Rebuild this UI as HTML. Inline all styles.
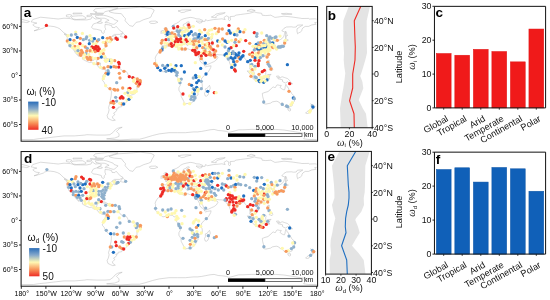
<!DOCTYPE html>
<html><head><meta charset="utf-8"><title>figure</title>
<style>
html,body{margin:0;padding:0;background:#fff;}
svg{display:block}
text{font-family:'Liberation Sans', Arial, sans-serif;fill:#111}
.tk{font-size:7px;fill:#000}
.t8{font-size:8.8px}
.lab{font-size:13.5px;font-weight:bold;fill:#000}
.ttl{font-size:9.2px}
.om{font-family:'Liberation Serif','DejaVu Serif',serif;font-style:italic;fill:#222;font-size:10.6px}
</style></head><body>
<svg width="550" height="300" viewBox="0 0 550 300">
<defs>
<linearGradient id="cb" x1="0" y1="0" x2="0" y2="1">
<stop offset="0" stop-color="#2a6db8"/><stop offset="0.25" stop-color="#86a9cb"/><stop offset="0.5" stop-color="#fff9b4"/><stop offset="0.75" stop-color="#f8975c"/><stop offset="1" stop-color="#ee2c25"/>
</linearGradient>
<clipPath id="clipA"><rect x="21.3" y="6" width="295.7" height="135"/></clipPath>
<clipPath id="clipD"><rect x="21.3" y="151" width="295.7" height="135"/></clipPath>
</defs>
<rect width="550" height="300" fill="#fff"/>

<g clip-path="url(#clipA)"><path d="M31.1 21.9 L32.8 19.5 L40.6 17.2 L53.3 18.5 L58.2 19.0 L64.0 18.2 L70.5 18.6 L74.6 19.9 L80.4 19.9 L86.9 19.9 L91.1 19.0 L91.9 16.6 L95.2 19.0 L99.3 18.6 L101.7 19.9 L99.3 21.5 L97.6 22.7 L93.5 23.9 L91.5 27.2 L93.1 28.9 L96.8 29.3 L101.3 30.5 L101.7 32.5 L103.4 33.5 L104.2 32.9 L104.2 30.9 L105.8 29.3 L105.0 27.4 L105.0 24.5 L108.7 24.8 L111.6 25.6 L112.0 27.4 L114.8 27.6 L116.1 26.2 L118.1 28.4 L119.8 30.5 L123.1 32.5 L119.8 34.4 L114.4 34.4 L111.6 36.6 L115.7 35.4 L116.1 37.0 L119.0 37.8 L116.5 39.1 L114.8 39.9 L114.8 38.7 L111.6 39.7 L111.0 41.1 L111.6 41.4 L108.3 42.3 L107.1 44.4 L106.6 45.2 L106.9 46.4 L105.4 47.5 L103.8 48.5 L102.4 49.7 L102.3 51.3 L103.3 53.8 L102.9 54.8 L101.9 54.0 L101.1 52.6 L100.1 50.9 L98.4 50.7 L96.0 50.8 L95.6 51.6 L93.9 51.3 L91.9 51.3 L89.4 52.6 L89.0 54.6 L88.8 57.1 L90.2 59.9 L91.5 60.6 L93.9 60.2 L94.7 58.3 L97.6 57.9 L97.2 59.5 L96.4 62.4 L98.4 62.5 L100.5 63.0 L100.3 66.0 L101.3 67.8 L103.4 67.9 L105.4 68.5 L107.1 66.6 L109.9 65.6 L110.3 66.6 L113.2 66.0 L116.5 66.8 L118.5 66.9 L119.8 68.5 L122.2 70.5 L124.7 70.7 L126.7 71.8 L128.0 74.2 L128.0 75.5 L129.6 76.3 L132.5 77.5 L135.4 77.9 L138.2 79.4 L140.1 79.9 L140.3 82.0 L138.6 84.9 L137.0 86.5 L137.0 89.3 L136.2 91.8 L135.4 93.4 L133.7 94.3 L131.3 95.1 L129.2 96.7 L129.0 98.7 L127.6 100.8 L125.9 102.4 L124.7 103.7 L122.2 103.8 L121.2 103.2 L122.2 105.3 L121.7 106.7 L118.1 107.3 L117.9 109.0 L115.7 109.0 L116.7 110.2 L115.3 112.2 L113.6 113.1 L114.8 114.7 L112.4 116.7 L112.8 118.4 L115.3 120.2 L112.8 120.7 L110.3 119.6 L107.9 118.4 L107.1 115.5 L108.3 113.1 L109.1 109.8 L108.5 107.7 L109.1 105.7 L110.3 102.4 L110.3 100.0 L111.2 95.9 L111.4 91.8 L111.2 90.4 L109.5 89.3 L106.6 86.9 L105.4 85.3 L104.2 82.4 L102.5 80.4 L102.3 79.1 L103.4 78.1 L102.7 77.2 L102.9 75.9 L103.4 74.8 L104.3 74.2 L105.4 72.2 L105.4 69.3 L103.8 68.3 L102.9 69.5 L100.9 68.7 L98.7 67.3 L97.2 64.8 L93.9 64.0 L91.5 62.2 L89.4 62.5 L86.1 61.1 L82.4 59.1 L82.4 57.1 L80.4 54.6 L78.7 53.0 L76.7 50.9 L74.9 49.5 L75.0 50.9 L76.7 53.0 L78.3 55.4 L79.0 56.6 L77.1 54.6 L75.0 52.6 L74.2 50.9 L72.8 48.8 L71.8 47.7 L70.0 47.2 L68.9 45.4 L68.5 44.5 L67.3 42.5 L67.0 40.3 L67.3 37.7 L66.7 35.9 L68.1 35.4 L66.4 34.3 L64.0 32.9 L61.9 30.9 L59.9 28.9 L57.4 27.6 L54.1 26.6 L50.8 26.2 L47.6 26.0 L44.7 27.0 L43.5 28.0 L40.2 29.1 L36.5 30.3 L34.0 30.8 L37.3 29.5 L39.4 27.6 L36.1 27.2 L34.0 26.0 L32.8 24.8 L34.0 23.9 L36.9 23.1 L34.8 22.6 L32.4 22.1 L31.1 21.9 M109.1 11.5 L113.2 10.0 L118.1 8.8 L128.0 8.2 L140.3 7.2 L151.0 8.4 L154.2 10.0 L153.4 12.1 L151.8 14.5 L151.0 17.0 L148.5 18.2 L143.6 19.7 L139.5 21.7 L136.2 22.3 L134.1 24.8 L132.9 26.4 L129.6 25.6 L127.2 23.1 L125.1 20.7 L125.5 18.6 L123.9 17.0 L121.4 13.7 L114.8 13.2 L110.7 12.3 L109.1 11.5 M103.4 15.2 L106.6 15.9 L109.9 17.0 L113.2 18.2 L114.0 19.5 L118.1 20.9 L116.5 22.3 L114.8 23.9 L113.2 24.4 L110.3 23.5 L108.3 22.7 L105.0 22.7 L105.8 21.5 L109.1 20.3 L106.6 19.0 L104.2 18.2 L99.3 18.2 L96.0 17.4 L95.2 15.8 L99.3 15.4 L103.4 15.2 M73.0 19.0 L76.3 19.5 L80.4 19.3 L85.3 19.0 L86.1 17.8 L82.8 15.8 L78.7 15.8 L73.0 16.2 L71.4 17.4 L73.0 19.0 M66.4 16.6 L69.7 17.2 L72.2 15.4 L69.7 14.5 L66.4 15.0 L66.4 16.6 M95.2 12.9 L103.4 13.2 L105.0 11.7 L111.6 10.0 L118.1 8.0 L107.5 7.6 L95.2 8.8 L93.5 10.9 L96.8 12.1 L95.2 12.9 M90.2 13.7 L103.4 13.6 L102.5 14.5 L93.5 14.5 L90.2 13.7 M73.0 14.0 L82.0 13.7 L82.0 13.1 L73.0 13.1 L73.0 14.0 M86.9 16.6 L90.2 16.6 L91.9 15.0 L86.9 15.4 L86.9 16.6 M97.6 23.1 L100.9 23.5 L102.5 22.7 L100.1 21.5 L97.6 22.3 L97.6 23.1 M120.3 36.5 L123.1 37.2 L125.5 37.3 L125.8 36.5 L125.1 35.1 L123.2 33.3 L121.8 34.2 L120.3 36.5 M64.0 33.9 L66.4 34.6 L67.7 35.9 L66.0 35.6 L64.0 33.9 M99.3 57.5 L101.7 56.5 L105.0 57.1 L108.1 58.9 L105.4 59.2 L105.0 58.3 L101.7 57.6 L99.3 57.5 M108.0 60.3 L109.5 59.2 L111.6 59.3 L112.9 60.2 L110.7 61.0 L108.0 60.3 M149.3 21.9 L151.0 21.2 L155.9 21.1 L157.8 22.3 L154.2 23.6 L150.5 23.3 L149.3 21.9 M164.5 46.0 L161.6 45.2 L161.2 43.8 L161.8 41.5 L161.4 40.3 L162.4 39.7 L166.1 39.9 L167.8 39.9 L168.0 37.8 L167.0 36.8 L165.2 36.0 L167.8 35.6 L167.6 34.8 L169.2 35.0 L170.3 33.9 L171.9 33.4 L172.7 32.5 L173.1 31.9 L175.6 31.6 L176.1 30.5 L175.7 28.9 L177.6 28.3 L177.2 29.7 L177.9 31.3 L178.9 31.1 L180.7 31.4 L184.2 30.7 L186.2 30.5 L186.2 28.9 L188.3 28.9 L188.9 27.8 L188.3 27.1 L192.0 26.8 L193.6 26.4 L190.3 26.1 L187.5 26.4 L186.5 25.6 L186.7 23.9 L189.5 22.3 L188.3 21.7 L186.7 22.3 L186.2 23.1 L183.4 24.4 L183.1 25.6 L184.4 26.4 L182.5 27.6 L182.4 29.3 L180.7 29.7 L179.5 30.1 L178.2 27.4 L177.6 27.0 L175.2 28.0 L173.5 27.4 L173.1 25.6 L173.9 24.4 L176.4 23.4 L178.9 21.9 L180.5 20.3 L183.0 19.0 L186.2 18.2 L190.1 17.4 L192.4 17.6 L194.4 18.1 L196.1 18.8 L199.4 19.0 L202.7 20.3 L202.2 21.2 L197.7 21.1 L196.1 21.1 L197.6 22.3 L199.4 23.1 L201.8 22.6 L201.8 21.5 L205.1 21.3 L205.5 19.6 L207.6 20.7 L213.3 19.6 L218.2 19.2 L221.9 18.8 L225.2 19.6 L224.0 17.4 L226.5 15.8 L228.9 17.0 L228.5 19.5 L229.3 20.7 L230.6 19.9 L230.1 16.6 L234.7 16.2 L235.5 15.2 L240.4 14.5 L249.4 13.3 L254.4 11.9 L256.8 12.7 L261.7 13.3 L262.1 15.2 L265.8 15.6 L270.8 15.2 L274.9 17.4 L278.1 17.0 L283.9 16.2 L292.1 17.0 L300.3 18.2 L301.9 18.5 L308.5 18.4 L309.3 19.0 L315.1 18.8 L316.7 19.2 M21.3 19.2 L25.4 20.3 L29.5 21.5 L27.0 22.7 L22.9 21.9 L21.3 22.3 M316.7 22.3 L314.7 22.6 L315.9 24.4 L311.8 24.9 L308.5 26.4 L305.2 26.4 L302.8 28.0 L301.9 29.7 L301.9 30.7 L300.3 32.1 L298.7 32.9 L297.6 33.8 L297.0 31.3 L297.0 28.9 L299.9 26.8 L302.8 25.0 L300.3 25.0 L297.4 25.2 L296.2 27.0 L293.7 27.2 L291.3 26.8 L286.4 27.0 L283.9 28.4 L281.8 30.9 L284.7 31.9 L284.9 32.9 L284.3 34.6 L283.9 36.2 L282.3 38.3 L280.2 39.7 L278.1 40.5 L276.5 40.7 L275.4 41.6 L273.6 42.9 L275.1 45.2 L275.1 46.4 L273.6 47.1 L272.6 47.1 L272.8 45.2 L271.6 44.5 L271.8 43.2 L271.0 42.8 L269.1 42.3 L268.5 43.6 L265.8 43.4 L266.7 44.8 L269.5 44.9 L267.9 46.0 L266.9 46.8 L268.1 48.9 L269.0 50.1 L269.0 51.5 L267.5 53.8 L265.8 55.4 L264.2 56.6 L262.1 57.2 L259.7 58.0 L259.3 58.9 L258.0 57.7 L256.6 58.7 L255.8 59.9 L257.2 62.0 L258.5 63.6 L258.6 65.8 L256.8 66.9 L255.3 68.3 L255.0 67.0 L253.1 65.6 L251.8 64.6 L251.1 64.6 L250.5 66.9 L251.5 69.5 L252.9 70.4 L253.9 71.8 L254.5 74.2 L253.9 74.4 L252.1 73.1 L251.3 70.5 L249.7 68.9 L250.0 66.9 L249.3 63.6 L249.1 62.0 L247.2 62.5 L246.4 62.4 L246.4 60.3 L244.7 58.3 L244.1 57.1 L242.0 57.5 L240.4 57.9 L240.0 59.1 L238.8 59.5 L236.5 61.8 L234.8 62.8 L234.8 64.8 L234.5 67.0 L233.8 67.8 L232.6 68.8 L231.6 67.7 L230.6 65.2 L229.7 63.2 L228.9 60.3 L228.7 58.3 L226.9 58.4 L225.6 57.2 L224.2 55.4 L221.5 54.8 L219.5 54.8 L216.2 54.4 L215.4 53.4 L213.7 53.6 L211.3 52.6 L210.0 50.9 L208.8 50.9 L208.4 51.3 L210.0 53.6 L210.6 55.0 L211.3 55.4 L213.3 55.7 L215.0 54.2 L215.4 55.4 L217.2 56.2 L218.1 57.1 L216.4 59.9 L214.1 61.6 L211.7 62.6 L208.8 64.0 L205.9 65.0 L204.7 65.1 L204.0 63.2 L202.7 60.3 L201.0 57.9 L199.8 55.4 L197.7 52.6 L197.6 51.3 L196.1 52.6 L195.7 50.9 L195.5 49.9 L197.2 49.9 L197.7 48.5 L198.5 46.4 L198.5 45.4 L196.1 45.9 L194.0 45.6 L192.0 45.4 L191.2 44.4 L190.6 43.2 L191.2 42.3 L192.8 41.8 L194.9 41.8 L197.7 41.1 L200.2 41.9 L203.1 41.5 L202.7 40.3 L200.2 39.1 L199.6 38.3 L201.0 36.9 L197.7 37.6 L196.5 39.1 L195.7 37.8 L194.3 37.4 L193.4 38.4 L192.4 39.9 L192.0 41.4 L190.6 42.1 L188.5 42.2 L187.7 42.4 L188.3 43.3 L187.9 44.4 L188.7 44.6 L187.7 45.6 L186.5 44.8 L185.4 43.0 L184.9 41.5 L184.2 40.7 L182.1 39.9 L180.9 38.5 L180.3 38.1 L179.1 38.4 L179.3 39.5 L180.5 40.7 L182.1 41.3 L184.2 42.6 L183.0 42.3 L182.5 43.2 L183.1 43.6 L182.1 44.4 L181.9 44.4 L182.1 43.2 L180.9 42.2 L179.1 41.4 L177.6 40.3 L176.2 39.2 L175.2 39.7 L173.1 40.0 L171.6 40.1 L171.6 41.3 L169.7 42.1 L168.8 43.2 L169.2 43.8 L168.4 44.7 L167.4 45.4 L165.3 45.4 L164.5 46.0 M164.2 46.2 L167.4 46.7 L169.8 45.6 L173.1 45.4 L177.2 45.0 L178.0 45.4 L177.2 47.4 L178.0 48.2 L181.3 49.0 L184.6 50.7 L185.4 50.1 L185.6 48.9 L187.9 48.8 L189.5 49.5 L192.8 50.2 L194.4 49.7 L195.5 49.9 L195.7 50.9 L196.5 52.6 L198.1 55.8 L199.5 58.3 L199.6 60.2 L201.0 62.4 L202.7 63.4 L204.5 65.2 L204.5 66.0 L205.5 66.9 L207.6 66.3 L211.1 65.8 L210.7 67.7 L208.4 71.8 L205.1 74.6 L203.1 76.9 L201.8 77.9 L201.0 80.4 L201.4 82.0 L202.2 84.0 L202.4 87.7 L199.4 89.8 L197.7 91.8 L198.1 94.9 L195.9 96.5 L195.9 98.3 L194.0 100.8 L191.2 103.1 L187.1 103.5 L185.4 103.9 L184.0 103.2 L183.9 101.6 L182.5 98.9 L181.3 96.7 L180.9 93.4 L178.9 90.2 L178.9 87.7 L180.3 85.3 L179.9 82.8 L179.0 80.4 L178.7 79.1 L176.6 76.7 L176.8 74.6 L177.0 72.6 L176.0 71.8 L173.9 71.9 L172.7 70.3 L170.6 70.3 L167.8 71.4 L165.7 71.2 L162.9 71.9 L161.2 70.5 L158.8 69.1 L157.9 67.4 L156.7 66.5 L155.2 65.2 L154.6 63.4 L155.5 62.0 L155.6 59.5 L155.1 58.3 L155.9 56.1 L157.1 54.2 L158.3 52.7 L160.8 51.3 L161.0 49.7 L162.0 48.2 L163.4 47.7 L164.2 46.2 M209.5 85.3 L210.3 88.1 L209.6 89.8 L208.0 95.1 L206.3 96.3 L205.1 95.9 L204.5 93.4 L205.4 91.8 L205.4 88.9 L207.2 88.3 L208.4 86.5 L209.5 85.3 M164.3 34.6 L166.1 34.3 L170.1 33.6 L169.4 33.3 L170.4 32.4 L169.2 32.1 L168.8 31.3 L167.8 30.5 L167.4 29.7 L166.5 29.7 L167.4 28.3 L165.7 28.3 L166.5 27.5 L164.9 27.5 L164.1 28.4 L164.5 29.7 L165.1 30.1 L165.1 30.7 L166.5 30.9 L166.5 31.8 L165.3 31.9 L165.6 32.7 L164.7 33.1 L166.1 33.3 L165.3 33.8 L164.3 34.6 M160.8 33.2 L163.8 32.8 L164.1 31.7 L164.5 30.9 L163.0 30.2 L162.0 30.9 L160.8 31.1 L161.6 32.0 L160.6 32.8 L160.8 33.2 M276.4 47.7 L277.7 47.4 L279.8 47.2 L281.4 47.2 L282.9 46.8 L283.9 46.7 L284.6 45.6 L284.7 44.1 L285.5 43.0 L285.1 41.7 L283.9 42.2 L283.7 43.6 L282.7 45.0 L281.4 45.0 L280.6 46.0 L278.1 46.4 L276.4 47.7 M283.9 41.4 L284.7 40.7 L286.6 41.1 L288.4 40.1 L287.4 39.5 L285.5 38.3 L285.3 40.1 L284.1 40.1 L283.9 41.4 M275.7 48.1 L277.1 47.9 L276.9 49.7 L275.9 49.9 L275.7 48.1 M285.5 31.1 L286.4 32.1 L286.8 34.6 L287.7 35.4 L286.4 35.6 L286.2 37.6 L285.5 37.8 L285.5 34.6 L285.5 31.1 M268.3 54.8 L269.1 55.0 L268.1 57.5 L267.6 56.6 L268.3 54.8 M258.2 59.7 L259.7 59.1 L260.1 59.5 L258.9 60.6 L258.2 59.7 M234.7 67.4 L235.6 68.5 L236.1 69.7 L235.1 70.5 L234.5 69.7 L234.7 67.4 M247.2 70.9 L249.0 71.2 L251.3 73.4 L253.9 76.3 L256.0 77.9 L255.8 80.2 L254.8 79.9 L252.7 78.3 L251.3 76.3 L250.0 74.1 L248.6 72.6 L247.2 70.9 M255.3 81.0 L257.6 80.8 L259.9 80.7 L261.5 81.2 L263.0 81.7 L262.8 82.6 L259.3 82.1 L256.4 81.5 L255.3 81.0 M258.5 74.2 L260.3 73.2 L261.7 72.8 L263.8 71.0 L265.0 69.7 L266.2 71.0 L265.7 72.6 L265.8 74.6 L265.4 76.1 L264.4 78.6 L263.0 78.7 L260.5 78.1 L259.3 76.7 L258.5 75.2 L258.5 74.2 M267.3 74.8 L268.3 74.5 L271.2 74.4 L270.2 75.1 L267.9 75.2 L268.7 76.3 L269.9 76.2 L269.1 77.1 L269.7 79.1 L268.7 79.3 L268.1 77.7 L267.7 79.9 L267.1 79.9 L267.1 78.1 L266.5 77.7 L267.3 74.8 M276.5 76.1 L279.0 76.1 L279.8 78.1 L282.1 76.7 L284.7 77.6 L287.6 78.6 L289.6 80.4 L290.3 81.6 L292.5 84.0 L289.6 83.5 L287.6 81.7 L285.5 83.0 L283.1 82.0 L282.3 81.2 L282.7 79.9 L279.8 79.1 L278.0 78.7 L278.6 77.5 L277.3 77.7 L276.5 76.1 M267.9 60.3 L269.3 60.3 L269.1 62.1 L268.7 63.8 L270.8 64.8 L270.4 65.1 L268.3 64.3 L267.6 63.4 L267.5 62.1 L267.9 60.3 M269.1 69.7 L270.4 68.3 L272.0 67.4 L272.8 69.3 L272.0 70.7 L270.8 70.1 L269.1 69.7 M262.3 93.4 L262.7 96.7 L264.0 101.2 L263.4 103.5 L265.8 104.1 L270.4 103.2 L272.4 101.9 L274.9 101.4 L276.9 101.2 L279.4 102.4 L280.6 104.1 L282.0 102.4 L282.3 104.5 L283.6 105.7 L284.7 106.7 L286.8 107.2 L288.0 106.5 L289.1 107.3 L290.5 106.4 L292.1 105.9 L292.7 104.1 L293.2 102.8 L294.1 101.9 L295.0 98.7 L294.6 96.3 L292.9 94.8 L291.7 93.7 L290.9 91.8 L289.1 91.0 L288.4 87.7 L287.2 87.1 L286.8 85.7 L285.9 84.3 L285.3 86.1 L285.1 88.1 L284.5 89.8 L283.1 89.6 L280.6 88.1 L280.2 87.3 L281.3 85.4 L279.8 85.4 L277.7 84.9 L276.5 85.4 L275.4 87.5 L274.5 87.5 L273.2 86.9 L271.6 88.1 L270.4 89.6 L269.3 90.2 L268.3 91.5 L265.0 92.4 L263.4 93.0 L262.3 93.4 M287.7 108.7 L290.6 108.8 L290.5 110.6 L289.2 111.0 L288.2 110.2 L287.7 108.7 M310.7 103.7 L312.2 105.1 L313.3 105.5 L315.1 106.2 L314.3 107.7 L312.9 109.5 L312.4 109.2 L312.6 108.2 L311.6 107.6 L312.4 106.1 L310.7 103.7 M310.7 108.6 L312.0 109.6 L310.8 111.0 L309.3 112.2 L308.9 113.1 L307.3 113.5 L305.6 113.1 L306.9 111.7 L309.3 110.2 L310.7 108.6 M211.3 17.0 L214.1 15.8 L215.8 14.1 L219.9 13.2 L225.2 12.7 L223.2 13.7 L218.2 15.0 L215.8 16.6 L216.2 17.7 L212.9 17.6 L211.3 17.0 M178.0 10.9 L182.1 10.0 L187.1 9.8 L191.2 10.0 L186.2 11.3 L184.2 12.3 L181.3 12.5 L180.1 11.7 L178.0 10.9 M247.0 10.9 L251.1 9.2 L255.2 10.5 L251.1 11.3 L247.0 10.9 M281.4 13.7 L286.4 13.3 L292.1 14.1 L288.0 14.4 L283.1 14.4 L281.4 13.7 M209.2 37.4 L212.1 37.4 L212.5 38.7 L210.9 39.1 L212.1 40.7 L212.5 42.8 L213.3 44.8 L210.9 45.4 L209.2 44.6 L209.6 42.3 L208.0 40.3 L207.6 38.7 L209.2 37.4 M21.3 139.5 L33.6 139.5 L39.4 138.6 L45.9 138.0 L54.1 137.0 L64.0 135.9 L74.6 135.9 L84.5 135.1 L86.9 134.7 L96.8 135.1 L105.0 135.1 L109.9 134.7 L113.2 132.3 L114.8 130.2 L117.3 128.4 L120.6 127.4 L122.2 127.3 L119.4 128.6 L118.1 129.8 L116.5 131.4 L119.0 133.9 L119.0 136.4 L114.8 138.0 L106.6 138.8 L119.8 140.0 L132.1 139.2 L139.5 139.2 L144.4 138.0 L152.6 135.5 L159.2 133.9 L164.9 133.2 L169.0 132.7 L177.2 132.7 L185.4 132.7 L193.6 131.9 L197.7 131.9 L201.8 131.4 L205.9 130.6 L210.0 129.8 L214.1 129.4 L218.2 130.5 L222.3 130.8 L226.5 131.4 L228.9 132.4 L233.0 131.4 L238.8 129.8 L242.9 129.8 L251.1 129.4 L259.3 129.4 L267.5 130.1 L275.7 129.4 L283.9 130.0 L292.1 131.3 L300.3 132.7 L304.4 133.3 L308.5 134.1 L305.2 136.4 L303.6 138.8 L308.5 139.5 L316.7 139.5" fill="none" stroke="#b6b6b6" stroke-width="0.5" stroke-linejoin="round"/>
<circle cx="46.4" cy="25.4" r="1.65" fill="#ee2a24"/>
<circle cx="75.7" cy="32.1" r="1.65" fill="#fff8ae"/>
<circle cx="82.4" cy="33.4" r="1.65" fill="#fff8ae"/>
<circle cx="71.3" cy="35.0" r="1.65" fill="#8fb0cc"/>
<circle cx="75.7" cy="34.3" r="1.65" fill="#8fb0cc"/>
<circle cx="68.0" cy="35.7" r="1.65" fill="#fff8ae"/>
<circle cx="77.3" cy="37.4" r="1.65" fill="#1f6fc1"/>
<circle cx="86.7" cy="37.0" r="1.65" fill="#8fb0cc"/>
<circle cx="80.3" cy="38.3" r="1.65" fill="#f79a5e"/>
<circle cx="83.3" cy="39.7" r="1.65" fill="#8fb0cc"/>
<circle cx="86.0" cy="38.7" r="1.65" fill="#8fb0cc"/>
<circle cx="90.0" cy="35.7" r="1.65" fill="#fff8ae"/>
<circle cx="70.0" cy="39.7" r="1.65" fill="#1f6fc1"/>
<circle cx="74.0" cy="40.3" r="1.65" fill="#f79a5e"/>
<circle cx="67.3" cy="41.0" r="1.65" fill="#f79a5e"/>
<circle cx="69.1" cy="43.0" r="1.65" fill="#fff8ae"/>
<circle cx="80.0" cy="43.7" r="1.65" fill="#ee2a24"/>
<circle cx="76.0" cy="42.3" r="1.65" fill="#fff8ae"/>
<circle cx="72.7" cy="43.7" r="1.65" fill="#fff8ae"/>
<circle cx="70.0" cy="45.7" r="1.65" fill="#8fb0cc"/>
<circle cx="74.9" cy="46.3" r="1.65" fill="#f79a5e"/>
<circle cx="78.0" cy="46.3" r="1.65" fill="#fff8ae"/>
<circle cx="82.7" cy="45.7" r="1.65" fill="#fff8ae"/>
<circle cx="85.3" cy="47.0" r="1.65" fill="#f79a5e"/>
<circle cx="89.3" cy="43.7" r="1.65" fill="#1f6fc1"/>
<circle cx="89.6" cy="40.3" r="1.65" fill="#8fb0cc"/>
<circle cx="92.7" cy="39.0" r="1.65" fill="#8fb0cc"/>
<circle cx="94.4" cy="38.7" r="1.65" fill="#1f6fc1"/>
<circle cx="97.3" cy="41.0" r="1.65" fill="#f79a5e"/>
<circle cx="98.7" cy="39.7" r="1.65" fill="#8fb0cc"/>
<circle cx="93.3" cy="43.7" r="1.65" fill="#fff8ae"/>
<circle cx="96.0" cy="43.7" r="1.65" fill="#fff8ae"/>
<circle cx="92.0" cy="47.0" r="1.65" fill="#ee2a24"/>
<circle cx="95.3" cy="47.7" r="1.65" fill="#ee2a24"/>
<circle cx="98.0" cy="47.0" r="1.65" fill="#ee2a24"/>
<circle cx="99.3" cy="49.0" r="1.65" fill="#ee2a24"/>
<circle cx="94.7" cy="49.9" r="1.65" fill="#ee2a24"/>
<circle cx="91.3" cy="49.0" r="1.65" fill="#fff8ae"/>
<circle cx="87.3" cy="48.3" r="1.65" fill="#8fb0cc"/>
<circle cx="86.7" cy="51.0" r="1.65" fill="#f79a5e"/>
<circle cx="81.3" cy="50.3" r="1.65" fill="#f79a5e"/>
<circle cx="78.7" cy="49.0" r="1.65" fill="#fff8ae"/>
<circle cx="75.3" cy="49.0" r="1.65" fill="#fff8ae"/>
<circle cx="72.7" cy="47.7" r="1.65" fill="#fff8ae"/>
<circle cx="82.7" cy="53.0" r="1.65" fill="#f79a5e"/>
<circle cx="80.0" cy="53.7" r="1.65" fill="#f79a5e"/>
<circle cx="77.3" cy="52.3" r="1.65" fill="#fff8ae"/>
<circle cx="86.0" cy="53.7" r="1.65" fill="#8fb0cc"/>
<circle cx="125.7" cy="37.0" r="1.65" fill="#ee2a24"/>
<circle cx="116.0" cy="38.1" r="1.65" fill="#ee2a24"/>
<circle cx="117.3" cy="39.4" r="1.65" fill="#ee2a24"/>
<circle cx="110.0" cy="37.7" r="1.65" fill="#f79a5e"/>
<circle cx="107.3" cy="38.3" r="1.65" fill="#f79a5e"/>
<circle cx="111.3" cy="39.7" r="1.65" fill="#f79a5e"/>
<circle cx="110.0" cy="41.7" r="1.65" fill="#fff8ae"/>
<circle cx="106.7" cy="41.0" r="1.65" fill="#fff8ae"/>
<circle cx="105.3" cy="43.0" r="1.65" fill="#f79a5e"/>
<circle cx="106.0" cy="45.7" r="1.65" fill="#f79a5e"/>
<circle cx="103.3" cy="42.3" r="1.65" fill="#fff8ae"/>
<circle cx="102.7" cy="37.7" r="1.65" fill="#1f6fc1"/>
<circle cx="92.7" cy="41.0" r="1.65" fill="#8fb0cc"/>
<circle cx="91.3" cy="39.0" r="1.65" fill="#fff8ae"/>
<circle cx="93.3" cy="47.7" r="1.65" fill="#ee2a24"/>
<circle cx="96.0" cy="46.3" r="1.65" fill="#ee2a24"/>
<circle cx="96.7" cy="49.7" r="1.65" fill="#ee2a24"/>
<circle cx="95.3" cy="51.7" r="1.65" fill="#f79a5e"/>
<circle cx="92.0" cy="51.7" r="1.65" fill="#fff8ae"/>
<circle cx="100.7" cy="51.7" r="1.65" fill="#fff8ae"/>
<circle cx="103.3" cy="53.7" r="1.65" fill="#f79a5e"/>
<circle cx="102.0" cy="51.0" r="1.65" fill="#fff8ae"/>
<circle cx="101.3" cy="57.0" r="1.65" fill="#1f6fc1"/>
<circle cx="98.0" cy="58.3" r="1.65" fill="#f79a5e"/>
<circle cx="95.3" cy="58.3" r="1.65" fill="#fff8ae"/>
<circle cx="92.0" cy="57.7" r="1.65" fill="#fff8ae"/>
<circle cx="90.7" cy="59.7" r="1.65" fill="#f79a5e"/>
<circle cx="105.3" cy="60.3" r="1.65" fill="#fff8ae"/>
<circle cx="110.0" cy="60.3" r="1.65" fill="#1f6fc1"/>
<circle cx="108.0" cy="59.7" r="1.65" fill="#fff8ae"/>
<circle cx="114.7" cy="60.7" r="1.65" fill="#f79a5e"/>
<circle cx="118.7" cy="62.3" r="1.65" fill="#ee2a24"/>
<circle cx="119.3" cy="63.9" r="1.65" fill="#ee2a24"/>
<circle cx="112.0" cy="61.0" r="1.65" fill="#fff8ae"/>
<circle cx="104.7" cy="56.3" r="1.65" fill="#fff8ae"/>
<circle cx="98.0" cy="63.7" r="1.65" fill="#f79a5e"/>
<circle cx="94.0" cy="63.7" r="1.65" fill="#fff8ae"/>
<circle cx="78.0" cy="50.7" r="1.65" fill="#8fb0cc"/>
<circle cx="82.0" cy="52.0" r="1.65" fill="#f79a5e"/>
<circle cx="90.0" cy="50.7" r="1.65" fill="#f79a5e"/>
<circle cx="98.0" cy="50.7" r="1.65" fill="#ee2a24"/>
<circle cx="104.0" cy="50.0" r="1.65" fill="#fff8ae"/>
<circle cx="80.7" cy="55.3" r="1.65" fill="#f79a5e"/>
<circle cx="84.7" cy="54.7" r="1.65" fill="#fff8ae"/>
<circle cx="88.7" cy="54.7" r="1.65" fill="#fff8ae"/>
<circle cx="86.7" cy="57.3" r="1.65" fill="#f79a5e"/>
<circle cx="88.0" cy="59.3" r="1.65" fill="#f79a5e"/>
<circle cx="84.0" cy="58.0" r="1.65" fill="#fff8ae"/>
<circle cx="90.0" cy="57.3" r="1.65" fill="#f79a5e"/>
<circle cx="100.0" cy="54.0" r="1.65" fill="#fff8ae"/>
<circle cx="100.7" cy="67.3" r="1.65" fill="#fff8ae"/>
<circle cx="104.0" cy="68.0" r="1.65" fill="#f79a5e"/>
<circle cx="106.0" cy="61.3" r="1.65" fill="#fff8ae"/>
<circle cx="111.3" cy="60.0" r="1.65" fill="#fff8ae"/>
<circle cx="118.7" cy="67.1" r="1.65" fill="#ee2a24"/>
<circle cx="114.0" cy="66.7" r="1.65" fill="#f79a5e"/>
<circle cx="110.7" cy="67.1" r="1.65" fill="#1f6fc1"/>
<circle cx="108.0" cy="66.7" r="1.65" fill="#f79a5e"/>
<circle cx="116.0" cy="67.1" r="1.65" fill="#f79a5e"/>
<circle cx="108.0" cy="70.7" r="1.65" fill="#8fb0cc"/>
<circle cx="108.7" cy="72.7" r="1.65" fill="#8fb0cc"/>
<circle cx="106.0" cy="73.3" r="1.65" fill="#f79a5e"/>
<circle cx="108.0" cy="74.0" r="1.65" fill="#1f6fc1"/>
<circle cx="104.4" cy="76.0" r="1.65" fill="#fff8ae"/>
<circle cx="103.3" cy="78.7" r="1.65" fill="#fff8ae"/>
<circle cx="124.0" cy="71.3" r="1.65" fill="#f79a5e"/>
<circle cx="119.3" cy="73.3" r="1.65" fill="#f79a5e"/>
<circle cx="120.0" cy="78.0" r="1.65" fill="#f79a5e"/>
<circle cx="129.3" cy="76.7" r="1.65" fill="#ee2a24"/>
<circle cx="116.7" cy="82.7" r="1.65" fill="#8fb0cc"/>
<circle cx="105.7" cy="85.7" r="1.65" fill="#fff8ae"/>
<circle cx="110.0" cy="88.7" r="1.65" fill="#f79a5e"/>
<circle cx="114.0" cy="89.3" r="1.65" fill="#f79a5e"/>
<circle cx="122.7" cy="88.0" r="1.65" fill="#f79a5e"/>
<circle cx="128.7" cy="88.7" r="1.65" fill="#f79a5e"/>
<circle cx="115.0" cy="90.0" r="1.65" fill="#f79a5e"/>
<circle cx="117.7" cy="90.0" r="1.65" fill="#f79a5e"/>
<circle cx="129.9" cy="88.3" r="1.65" fill="#ee2a24"/>
<circle cx="127.7" cy="92.7" r="1.65" fill="#8fb0cc"/>
<circle cx="125.0" cy="93.3" r="1.65" fill="#fff8ae"/>
<circle cx="131.0" cy="92.7" r="1.65" fill="#fff8ae"/>
<circle cx="134.3" cy="92.7" r="1.65" fill="#fff8ae"/>
<circle cx="136.3" cy="91.3" r="1.65" fill="#fff8ae"/>
<circle cx="138.3" cy="86.0" r="1.65" fill="#f79a5e"/>
<circle cx="136.3" cy="83.3" r="1.65" fill="#f79a5e"/>
<circle cx="137.7" cy="81.3" r="1.65" fill="#ee2a24"/>
<circle cx="140.3" cy="82.0" r="1.65" fill="#f79a5e"/>
<circle cx="139.7" cy="84.0" r="1.65" fill="#ee2a24"/>
<circle cx="133.7" cy="81.3" r="1.65" fill="#fff8ae"/>
<circle cx="121.7" cy="96.7" r="1.65" fill="#ee2a24"/>
<circle cx="120.3" cy="98.0" r="1.65" fill="#ee2a24"/>
<circle cx="123.0" cy="98.0" r="1.65" fill="#ee2a24"/>
<circle cx="115.7" cy="97.3" r="1.65" fill="#8fb0cc"/>
<circle cx="116.6" cy="101.1" r="1.65" fill="#8fb0cc"/>
<circle cx="113.0" cy="101.3" r="1.65" fill="#ee2a24"/>
<circle cx="111.0" cy="102.7" r="1.65" fill="#f79a5e"/>
<circle cx="113.7" cy="103.3" r="1.65" fill="#f79a5e"/>
<circle cx="113.4" cy="107.3" r="1.65" fill="#ee2a24"/>
<circle cx="127.0" cy="100.0" r="1.65" fill="#fff8ae"/>
<circle cx="129.0" cy="99.3" r="1.65" fill="#1f6fc1"/>
<circle cx="131.0" cy="97.3" r="1.65" fill="#fff8ae"/>
<circle cx="128.3" cy="95.3" r="1.65" fill="#fff8ae"/>
<circle cx="121.7" cy="104.0" r="1.65" fill="#f79a5e"/>
<circle cx="123.7" cy="104.0" r="1.65" fill="#1f6fc1"/>
<circle cx="119.7" cy="103.3" r="1.65" fill="#fff8ae"/>
<circle cx="111.3" cy="63.0" r="1.65" fill="#fff8ae"/>
<circle cx="132.9" cy="77.7" r="1.65" fill="#ee2a24"/>
<circle cx="137.3" cy="79.0" r="1.65" fill="#f79a5e"/>
<circle cx="140.0" cy="80.3" r="1.65" fill="#f79a5e"/>
<circle cx="134.0" cy="79.7" r="1.65" fill="#fff8ae"/>
<circle cx="128.7" cy="90.3" r="1.65" fill="#fff8ae"/>
<circle cx="132.7" cy="92.3" r="1.65" fill="#fff8ae"/>
<circle cx="134.7" cy="91.0" r="1.65" fill="#fff8ae"/>
<circle cx="156.0" cy="63.7" r="1.65" fill="#fff8ae"/>
<circle cx="154.7" cy="63.7" r="1.65" fill="#f79a5e"/>
<circle cx="157.7" cy="67.7" r="1.65" fill="#1f6fc1"/>
<circle cx="160.4" cy="70.3" r="1.65" fill="#1f6fc1"/>
<circle cx="162.7" cy="65.4" r="1.65" fill="#8fb0cc"/>
<circle cx="167.6" cy="65.4" r="1.65" fill="#1f6fc1"/>
<circle cx="166.0" cy="67.0" r="1.65" fill="#8fb0cc"/>
<circle cx="168.7" cy="70.3" r="1.65" fill="#1f6fc1"/>
<circle cx="166.0" cy="71.3" r="1.65" fill="#8fb0cc"/>
<circle cx="164.7" cy="68.3" r="1.65" fill="#1f6fc1"/>
<circle cx="173.3" cy="26.3" r="1.65" fill="#8fb0cc"/>
<circle cx="173.7" cy="28.1" r="1.65" fill="#ee2a24"/>
<circle cx="177.7" cy="26.7" r="1.65" fill="#ee2a24"/>
<circle cx="188.7" cy="25.0" r="1.65" fill="#ee2a24"/>
<circle cx="189.3" cy="27.3" r="1.65" fill="#f79a5e"/>
<circle cx="193.3" cy="26.3" r="1.65" fill="#fff8ae"/>
<circle cx="184.0" cy="27.7" r="1.65" fill="#fff8ae"/>
<circle cx="186.0" cy="29.0" r="1.65" fill="#fff8ae"/>
<circle cx="180.7" cy="28.3" r="1.65" fill="#fff8ae"/>
<circle cx="165.7" cy="29.0" r="1.65" fill="#f79a5e"/>
<circle cx="164.0" cy="32.1" r="1.65" fill="#fff8ae"/>
<circle cx="166.7" cy="31.0" r="1.65" fill="#f79a5e"/>
<circle cx="168.0" cy="32.3" r="1.65" fill="#1f6fc1"/>
<circle cx="167.3" cy="34.3" r="1.65" fill="#1f6fc1"/>
<circle cx="170.0" cy="33.7" r="1.65" fill="#8fb0cc"/>
<circle cx="172.0" cy="33.0" r="1.65" fill="#f79a5e"/>
<circle cx="174.7" cy="34.3" r="1.65" fill="#f79a5e"/>
<circle cx="177.3" cy="31.0" r="1.65" fill="#8fb0cc"/>
<circle cx="178.7" cy="32.3" r="1.65" fill="#8fb0cc"/>
<circle cx="180.0" cy="31.0" r="1.65" fill="#8fb0cc"/>
<circle cx="182.0" cy="32.3" r="1.65" fill="#fff8ae"/>
<circle cx="184.9" cy="31.7" r="1.65" fill="#fff8ae"/>
<circle cx="188.0" cy="31.0" r="1.65" fill="#fff8ae"/>
<circle cx="191.3" cy="31.7" r="1.65" fill="#1f6fc1"/>
<circle cx="189.3" cy="33.7" r="1.65" fill="#1f6fc1"/>
<circle cx="195.3" cy="33.7" r="1.65" fill="#8fb0cc"/>
<circle cx="199.6" cy="30.3" r="1.65" fill="#fff8ae"/>
<circle cx="204.7" cy="29.7" r="1.65" fill="#f79a5e"/>
<circle cx="209.3" cy="30.3" r="1.65" fill="#fff8ae"/>
<circle cx="201.3" cy="32.3" r="1.65" fill="#fff8ae"/>
<circle cx="199.3" cy="34.3" r="1.65" fill="#1f6fc1"/>
<circle cx="196.7" cy="35.0" r="1.65" fill="#8fb0cc"/>
<circle cx="193.3" cy="35.0" r="1.65" fill="#8fb0cc"/>
<circle cx="205.3" cy="35.7" r="1.65" fill="#1f6fc1"/>
<circle cx="208.7" cy="34.3" r="1.65" fill="#fff8ae"/>
<circle cx="178.7" cy="35.0" r="1.65" fill="#8fb0cc"/>
<circle cx="180.7" cy="36.3" r="1.65" fill="#8fb0cc"/>
<circle cx="182.7" cy="35.0" r="1.65" fill="#fff8ae"/>
<circle cx="184.7" cy="35.7" r="1.65" fill="#1f6fc1"/>
<circle cx="188.0" cy="35.0" r="1.65" fill="#1f6fc1"/>
<circle cx="186.7" cy="37.0" r="1.65" fill="#fff8ae"/>
<circle cx="170.7" cy="36.3" r="1.65" fill="#fff8ae"/>
<circle cx="173.3" cy="36.3" r="1.65" fill="#fff8ae"/>
<circle cx="176.0" cy="37.0" r="1.65" fill="#f79a5e"/>
<circle cx="168.7" cy="37.7" r="1.65" fill="#fff8ae"/>
<circle cx="162.3" cy="40.3" r="1.65" fill="#f79a5e"/>
<circle cx="161.3" cy="43.0" r="1.65" fill="#f79a5e"/>
<circle cx="166.0" cy="39.7" r="1.65" fill="#ee2a24"/>
<circle cx="168.7" cy="39.7" r="1.65" fill="#8fb0cc"/>
<circle cx="171.3" cy="39.0" r="1.65" fill="#fff8ae"/>
<circle cx="172.7" cy="41.0" r="1.65" fill="#fff8ae"/>
<circle cx="176.7" cy="39.0" r="1.65" fill="#ee2a24"/>
<circle cx="178.7" cy="39.7" r="1.65" fill="#ee2a24"/>
<circle cx="180.7" cy="39.0" r="1.65" fill="#ee2a24"/>
<circle cx="178.0" cy="41.7" r="1.65" fill="#ee2a24"/>
<circle cx="175.3" cy="41.7" r="1.65" fill="#ee2a24"/>
<circle cx="181.3" cy="41.7" r="1.65" fill="#ee2a24"/>
<circle cx="183.3" cy="40.3" r="1.65" fill="#fff8ae"/>
<circle cx="186.0" cy="39.7" r="1.65" fill="#ee2a24"/>
<circle cx="187.3" cy="41.7" r="1.65" fill="#ee2a24"/>
<circle cx="190.0" cy="39.7" r="1.65" fill="#fff8ae"/>
<circle cx="194.0" cy="39.0" r="1.65" fill="#8fb0cc"/>
<circle cx="196.7" cy="38.3" r="1.65" fill="#8fb0cc"/>
<circle cx="198.7" cy="37.0" r="1.65" fill="#1f6fc1"/>
<circle cx="200.0" cy="39.0" r="1.65" fill="#8fb0cc"/>
<circle cx="202.0" cy="37.7" r="1.65" fill="#8fb0cc"/>
<circle cx="204.0" cy="39.0" r="1.65" fill="#fff8ae"/>
<circle cx="207.3" cy="39.7" r="1.65" fill="#f79a5e"/>
<circle cx="209.3" cy="39.0" r="1.65" fill="#fff8ae"/>
<circle cx="195.3" cy="41.0" r="1.65" fill="#f79a5e"/>
<circle cx="192.7" cy="41.7" r="1.65" fill="#f79a5e"/>
<circle cx="198.7" cy="41.7" r="1.65" fill="#f79a5e"/>
<circle cx="201.3" cy="41.0" r="1.65" fill="#fff8ae"/>
<circle cx="164.7" cy="43.0" r="1.65" fill="#fff8ae"/>
<circle cx="167.3" cy="43.7" r="1.65" fill="#fff8ae"/>
<circle cx="169.3" cy="45.0" r="1.65" fill="#f79a5e"/>
<circle cx="171.3" cy="43.7" r="1.65" fill="#ee2a24"/>
<circle cx="172.0" cy="46.3" r="1.65" fill="#ee2a24"/>
<circle cx="174.7" cy="45.0" r="1.65" fill="#ee2a24"/>
<circle cx="176.7" cy="44.3" r="1.65" fill="#fff8ae"/>
<circle cx="178.7" cy="45.0" r="1.65" fill="#fff8ae"/>
<circle cx="181.3" cy="45.0" r="1.65" fill="#fff8ae"/>
<circle cx="184.0" cy="43.7" r="1.65" fill="#fff8ae"/>
<circle cx="188.7" cy="43.7" r="1.65" fill="#fff8ae"/>
<circle cx="191.3" cy="43.7" r="1.65" fill="#fff8ae"/>
<circle cx="194.0" cy="44.3" r="1.65" fill="#f79a5e"/>
<circle cx="196.7" cy="43.7" r="1.65" fill="#fff8ae"/>
<circle cx="199.6" cy="45.7" r="1.65" fill="#1f6fc1"/>
<circle cx="202.7" cy="43.7" r="1.65" fill="#fff8ae"/>
<circle cx="205.3" cy="45.0" r="1.65" fill="#f79a5e"/>
<circle cx="208.7" cy="43.7" r="1.65" fill="#ee2a24"/>
<circle cx="209.3" cy="46.3" r="1.65" fill="#f79a5e"/>
<circle cx="162.7" cy="47.7" r="1.65" fill="#8fb0cc"/>
<circle cx="162.0" cy="49.9" r="1.65" fill="#1f6fc1"/>
<circle cx="160.7" cy="50.3" r="1.65" fill="#f79a5e"/>
<circle cx="165.3" cy="47.0" r="1.65" fill="#fff8ae"/>
<circle cx="176.0" cy="46.3" r="1.65" fill="#fff8ae"/>
<circle cx="180.0" cy="48.3" r="1.65" fill="#fff8ae"/>
<circle cx="182.0" cy="49.0" r="1.65" fill="#f79a5e"/>
<circle cx="178.7" cy="49.0" r="1.65" fill="#fff8ae"/>
<circle cx="185.3" cy="49.0" r="1.65" fill="#f79a5e"/>
<circle cx="194.0" cy="47.7" r="1.65" fill="#fff8ae"/>
<circle cx="196.7" cy="47.7" r="1.65" fill="#f79a5e"/>
<circle cx="194.7" cy="50.3" r="1.65" fill="#ee2a24"/>
<circle cx="192.7" cy="50.3" r="1.65" fill="#ee2a24"/>
<circle cx="202.7" cy="47.7" r="1.65" fill="#f79a5e"/>
<circle cx="205.3" cy="48.3" r="1.65" fill="#8fb0cc"/>
<circle cx="208.7" cy="48.3" r="1.65" fill="#fff8ae"/>
<circle cx="204.0" cy="50.3" r="1.65" fill="#fff8ae"/>
<circle cx="195.3" cy="52.3" r="1.65" fill="#ee2a24"/>
<circle cx="198.7" cy="52.3" r="1.65" fill="#ee2a24"/>
<circle cx="198.0" cy="53.7" r="1.65" fill="#ee2a24"/>
<circle cx="202.0" cy="53.0" r="1.65" fill="#fff8ae"/>
<circle cx="206.0" cy="53.0" r="1.65" fill="#fff8ae"/>
<circle cx="209.3" cy="52.3" r="1.65" fill="#f79a5e"/>
<circle cx="160.0" cy="52.0" r="1.65" fill="#f79a5e"/>
<circle cx="196.0" cy="54.7" r="1.65" fill="#ee2a24"/>
<circle cx="201.3" cy="56.0" r="1.65" fill="#ee2a24"/>
<circle cx="204.0" cy="53.3" r="1.65" fill="#ee2a24"/>
<circle cx="207.3" cy="52.7" r="1.65" fill="#fff8ae"/>
<circle cx="209.3" cy="54.7" r="1.65" fill="#f79a5e"/>
<circle cx="206.0" cy="55.3" r="1.65" fill="#ee2a24"/>
<circle cx="201.3" cy="58.7" r="1.65" fill="#f79a5e"/>
<circle cx="156.7" cy="65.7" r="1.65" fill="#f79a5e"/>
<circle cx="170.7" cy="64.7" r="1.65" fill="#fff8ae"/>
<circle cx="176.0" cy="65.7" r="1.65" fill="#1f6fc1"/>
<circle cx="174.7" cy="68.0" r="1.65" fill="#fff8ae"/>
<circle cx="181.3" cy="65.7" r="1.65" fill="#1f6fc1"/>
<circle cx="172.0" cy="69.3" r="1.65" fill="#1f6fc1"/>
<circle cx="171.3" cy="71.1" r="1.65" fill="#1f6fc1"/>
<circle cx="174.7" cy="70.7" r="1.65" fill="#1f6fc1"/>
<circle cx="176.0" cy="72.0" r="1.65" fill="#8fb0cc"/>
<circle cx="177.3" cy="72.7" r="1.65" fill="#8fb0cc"/>
<circle cx="184.4" cy="72.0" r="1.65" fill="#1f6fc1"/>
<circle cx="176.7" cy="75.3" r="1.65" fill="#8fb0cc"/>
<circle cx="178.7" cy="79.3" r="1.65" fill="#fff8ae"/>
<circle cx="181.3" cy="79.1" r="1.65" fill="#8fb0cc"/>
<circle cx="180.0" cy="82.7" r="1.65" fill="#8fb0cc"/>
<circle cx="195.3" cy="62.7" r="1.65" fill="#fff8ae"/>
<circle cx="205.3" cy="63.1" r="1.65" fill="#1f6fc1"/>
<circle cx="200.7" cy="68.4" r="1.65" fill="#1f6fc1"/>
<circle cx="206.0" cy="74.0" r="1.65" fill="#1f6fc1"/>
<circle cx="195.6" cy="75.3" r="1.65" fill="#1f6fc1"/>
<circle cx="196.0" cy="77.3" r="1.65" fill="#1f6fc1"/>
<circle cx="193.3" cy="78.0" r="1.65" fill="#8fb0cc"/>
<circle cx="199.3" cy="76.7" r="1.65" fill="#fff8ae"/>
<circle cx="198.7" cy="80.7" r="1.65" fill="#1f6fc1"/>
<circle cx="201.3" cy="81.3" r="1.65" fill="#8fb0cc"/>
<circle cx="196.7" cy="82.7" r="1.65" fill="#1f6fc1"/>
<circle cx="189.3" cy="84.4" r="1.65" fill="#f79a5e"/>
<circle cx="191.6" cy="85.3" r="1.65" fill="#1f6fc1"/>
<circle cx="196.7" cy="87.3" r="1.65" fill="#1f6fc1"/>
<circle cx="193.3" cy="88.7" r="1.65" fill="#8fb0cc"/>
<circle cx="201.3" cy="88.7" r="1.65" fill="#8fb0cc"/>
<circle cx="198.0" cy="89.3" r="1.65" fill="#fff8ae"/>
<circle cx="179.0" cy="80.7" r="1.65" fill="#fff8ae"/>
<circle cx="194.6" cy="90.0" r="1.65" fill="#1f6fc1"/>
<circle cx="197.7" cy="91.3" r="1.65" fill="#fff8ae"/>
<circle cx="192.3" cy="92.7" r="1.65" fill="#fff8ae"/>
<circle cx="183.0" cy="94.0" r="1.65" fill="#ee2a24"/>
<circle cx="194.3" cy="94.0" r="1.65" fill="#1f6fc1"/>
<circle cx="189.7" cy="96.0" r="1.65" fill="#fff8ae"/>
<circle cx="191.7" cy="96.7" r="1.65" fill="#8fb0cc"/>
<circle cx="194.3" cy="96.7" r="1.65" fill="#8fb0cc"/>
<circle cx="191.0" cy="99.3" r="1.65" fill="#8fb0cc"/>
<circle cx="193.7" cy="100.0" r="1.65" fill="#8fb0cc"/>
<circle cx="195.0" cy="98.0" r="1.65" fill="#8fb0cc"/>
<circle cx="184.3" cy="104.0" r="1.65" fill="#fff8ae"/>
<circle cx="189.7" cy="103.7" r="1.65" fill="#fff8ae"/>
<circle cx="207.7" cy="91.3" r="1.65" fill="#1f6fc1"/>
<circle cx="214.3" cy="92.7" r="1.65" fill="#ee2a24"/>
<circle cx="216.1" cy="92.7" r="1.65" fill="#fff8ae"/>
<circle cx="229.0" cy="25.4" r="1.65" fill="#ee2a24"/>
<circle cx="215.0" cy="28.3" r="1.65" fill="#f79a5e"/>
<circle cx="219.0" cy="29.0" r="1.65" fill="#f79a5e"/>
<circle cx="222.3" cy="29.0" r="1.65" fill="#f79a5e"/>
<circle cx="218.3" cy="31.7" r="1.65" fill="#f79a5e"/>
<circle cx="211.7" cy="29.7" r="1.65" fill="#fff8ae"/>
<circle cx="216.3" cy="33.7" r="1.65" fill="#fff8ae"/>
<circle cx="212.3" cy="34.3" r="1.65" fill="#fff8ae"/>
<circle cx="207.7" cy="33.0" r="1.65" fill="#fff8ae"/>
<circle cx="208.3" cy="38.3" r="1.65" fill="#8fb0cc"/>
<circle cx="211.7" cy="37.0" r="1.65" fill="#fff8ae"/>
<circle cx="229.0" cy="30.7" r="1.65" fill="#1f6fc1"/>
<circle cx="230.3" cy="33.0" r="1.65" fill="#1f6fc1"/>
<circle cx="227.0" cy="33.7" r="1.65" fill="#f79a5e"/>
<circle cx="233.7" cy="33.0" r="1.65" fill="#fff8ae"/>
<circle cx="234.6" cy="34.7" r="1.65" fill="#1f6fc1"/>
<circle cx="237.0" cy="35.0" r="1.65" fill="#8fb0cc"/>
<circle cx="238.3" cy="29.0" r="1.65" fill="#f79a5e"/>
<circle cx="239.9" cy="31.7" r="1.65" fill="#1f6fc1"/>
<circle cx="237.0" cy="31.0" r="1.65" fill="#fff8ae"/>
<circle cx="243.7" cy="32.1" r="1.65" fill="#f79a5e"/>
<circle cx="245.0" cy="29.7" r="1.65" fill="#fff8ae"/>
<circle cx="254.3" cy="32.7" r="1.65" fill="#ee2a24"/>
<circle cx="257.0" cy="33.7" r="1.65" fill="#8fb0cc"/>
<circle cx="256.7" cy="36.3" r="1.65" fill="#8fb0cc"/>
<circle cx="261.7" cy="33.0" r="1.65" fill="#fff8ae"/>
<circle cx="205.0" cy="39.7" r="1.65" fill="#f79a5e"/>
<circle cx="212.3" cy="43.0" r="1.65" fill="#ee2a24"/>
<circle cx="217.7" cy="41.0" r="1.65" fill="#1f6fc1"/>
<circle cx="219.7" cy="41.7" r="1.65" fill="#fff8ae"/>
<circle cx="222.6" cy="39.0" r="1.65" fill="#f79a5e"/>
<circle cx="225.0" cy="41.0" r="1.65" fill="#1f6fc1"/>
<circle cx="227.0" cy="42.3" r="1.65" fill="#1f6fc1"/>
<circle cx="228.3" cy="41.7" r="1.65" fill="#fff8ae"/>
<circle cx="231.7" cy="40.3" r="1.65" fill="#fff8ae"/>
<circle cx="235.7" cy="39.7" r="1.65" fill="#f79a5e"/>
<circle cx="235.0" cy="42.3" r="1.65" fill="#8fb0cc"/>
<circle cx="239.0" cy="41.7" r="1.65" fill="#f79a5e"/>
<circle cx="240.7" cy="39.7" r="1.65" fill="#fff8ae"/>
<circle cx="245.7" cy="40.6" r="1.65" fill="#ee2a24"/>
<circle cx="249.7" cy="43.3" r="1.65" fill="#f79a5e"/>
<circle cx="207.0" cy="43.7" r="1.65" fill="#fff8ae"/>
<circle cx="210.3" cy="47.0" r="1.65" fill="#f79a5e"/>
<circle cx="211.7" cy="49.0" r="1.65" fill="#f79a5e"/>
<circle cx="217.7" cy="45.9" r="1.65" fill="#f79a5e"/>
<circle cx="222.3" cy="45.0" r="1.65" fill="#fff8ae"/>
<circle cx="225.0" cy="47.0" r="1.65" fill="#8fb0cc"/>
<circle cx="236.3" cy="45.7" r="1.65" fill="#ee2a24"/>
<circle cx="233.7" cy="45.7" r="1.65" fill="#fff8ae"/>
<circle cx="231.0" cy="47.7" r="1.65" fill="#ee2a24"/>
<circle cx="229.0" cy="49.0" r="1.65" fill="#1f6fc1"/>
<circle cx="228.3" cy="51.0" r="1.65" fill="#8fb0cc"/>
<circle cx="233.0" cy="51.7" r="1.65" fill="#8fb0cc"/>
<circle cx="231.0" cy="53.7" r="1.65" fill="#1f6fc1"/>
<circle cx="239.0" cy="53.0" r="1.65" fill="#1f6fc1"/>
<circle cx="235.0" cy="53.7" r="1.65" fill="#1f6fc1"/>
<circle cx="243.7" cy="51.3" r="1.65" fill="#ee2a24"/>
<circle cx="226.3" cy="53.7" r="1.65" fill="#1f6fc1"/>
<circle cx="213.7" cy="49.9" r="1.65" fill="#ee2a24"/>
<circle cx="215.7" cy="51.0" r="1.65" fill="#f79a5e"/>
<circle cx="214.3" cy="53.7" r="1.65" fill="#f79a5e"/>
<circle cx="205.0" cy="51.0" r="1.65" fill="#f79a5e"/>
<circle cx="206.3" cy="47.0" r="1.65" fill="#fff8ae"/>
<circle cx="256.3" cy="44.3" r="1.65" fill="#1f6fc1"/>
<circle cx="258.3" cy="43.0" r="1.65" fill="#8fb0cc"/>
<circle cx="253.0" cy="46.3" r="1.65" fill="#fff8ae"/>
<circle cx="255.7" cy="47.7" r="1.65" fill="#f79a5e"/>
<circle cx="254.3" cy="49.9" r="1.65" fill="#8fb0cc"/>
<circle cx="257.7" cy="47.0" r="1.65" fill="#fff8ae"/>
<circle cx="261.0" cy="45.7" r="1.65" fill="#fff8ae"/>
<circle cx="263.7" cy="43.7" r="1.65" fill="#8fb0cc"/>
<circle cx="263.7" cy="47.0" r="1.65" fill="#1f6fc1"/>
<circle cx="261.7" cy="49.0" r="1.65" fill="#8fb0cc"/>
<circle cx="259.7" cy="50.3" r="1.65" fill="#f79a5e"/>
<circle cx="263.0" cy="51.0" r="1.65" fill="#fff8ae"/>
<circle cx="264.3" cy="40.3" r="1.65" fill="#f79a5e"/>
<circle cx="252.3" cy="53.0" r="1.65" fill="#ee2a24"/>
<circle cx="255.7" cy="53.7" r="1.65" fill="#fff8ae"/>
<circle cx="258.3" cy="53.0" r="1.65" fill="#f79a5e"/>
<circle cx="211.0" cy="55.0" r="1.65" fill="#f79a5e"/>
<circle cx="214.3" cy="55.4" r="1.65" fill="#ee2a24"/>
<circle cx="215.0" cy="57.0" r="1.65" fill="#f79a5e"/>
<circle cx="225.0" cy="55.0" r="1.65" fill="#1f6fc1"/>
<circle cx="227.0" cy="56.3" r="1.65" fill="#fff8ae"/>
<circle cx="229.7" cy="53.7" r="1.65" fill="#fff8ae"/>
<circle cx="233.7" cy="53.7" r="1.65" fill="#8fb0cc"/>
<circle cx="236.3" cy="55.0" r="1.65" fill="#1f6fc1"/>
<circle cx="238.3" cy="55.7" r="1.65" fill="#1f6fc1"/>
<circle cx="228.3" cy="59.0" r="1.65" fill="#8fb0cc"/>
<circle cx="231.0" cy="57.7" r="1.65" fill="#1f6fc1"/>
<circle cx="233.0" cy="59.0" r="1.65" fill="#1f6fc1"/>
<circle cx="235.0" cy="57.7" r="1.65" fill="#1f6fc1"/>
<circle cx="239.0" cy="57.7" r="1.65" fill="#f79a5e"/>
<circle cx="241.7" cy="57.0" r="1.65" fill="#1f6fc1"/>
<circle cx="243.0" cy="55.7" r="1.65" fill="#1f6fc1"/>
<circle cx="233.7" cy="61.7" r="1.65" fill="#1f6fc1"/>
<circle cx="237.0" cy="61.3" r="1.65" fill="#f79a5e"/>
<circle cx="240.3" cy="59.0" r="1.65" fill="#1f6fc1"/>
<circle cx="232.3" cy="65.0" r="1.65" fill="#fff8ae"/>
<circle cx="235.0" cy="65.0" r="1.65" fill="#1f6fc1"/>
<circle cx="231.7" cy="67.4" r="1.65" fill="#1f6fc1"/>
<circle cx="234.6" cy="69.7" r="1.65" fill="#ee2a24"/>
<circle cx="235.4" cy="71.0" r="1.65" fill="#ee2a24"/>
<circle cx="249.7" cy="54.3" r="1.65" fill="#f79a5e"/>
<circle cx="252.3" cy="55.0" r="1.65" fill="#fff8ae"/>
<circle cx="261.0" cy="54.3" r="1.65" fill="#fff8ae"/>
<circle cx="257.7" cy="56.3" r="1.65" fill="#fff8ae"/>
<circle cx="255.0" cy="57.7" r="1.65" fill="#1f6fc1"/>
<circle cx="255.0" cy="60.3" r="1.65" fill="#ee2a24"/>
<circle cx="258.3" cy="57.7" r="1.65" fill="#fff8ae"/>
<circle cx="259.0" cy="60.7" r="1.65" fill="#ee2a24"/>
<circle cx="258.3" cy="63.7" r="1.65" fill="#ee2a24"/>
<circle cx="258.3" cy="65.7" r="1.65" fill="#ee2a24"/>
<circle cx="247.7" cy="61.7" r="1.65" fill="#1f6fc1"/>
<circle cx="250.3" cy="60.3" r="1.65" fill="#1f6fc1"/>
<circle cx="251.7" cy="64.3" r="1.65" fill="#8fb0cc"/>
<circle cx="255.0" cy="66.3" r="1.65" fill="#8fb0cc"/>
<circle cx="251.0" cy="66.3" r="1.65" fill="#fff8ae"/>
<circle cx="252.3" cy="69.7" r="1.65" fill="#f79a5e"/>
<circle cx="255.0" cy="69.0" r="1.65" fill="#fff8ae"/>
<circle cx="250.3" cy="71.7" r="1.65" fill="#fff8ae"/>
<circle cx="253.0" cy="73.7" r="1.65" fill="#fff8ae"/>
<circle cx="251.0" cy="76.3" r="1.65" fill="#f79a5e"/>
<circle cx="255.0" cy="77.0" r="1.65" fill="#8fb0cc"/>
<circle cx="259.0" cy="74.3" r="1.65" fill="#f79a5e"/>
<circle cx="262.3" cy="71.7" r="1.65" fill="#ee2a24"/>
<circle cx="264.3" cy="70.3" r="1.65" fill="#ee2a24"/>
<circle cx="261.0" cy="77.7" r="1.65" fill="#fff8ae"/>
<circle cx="263.7" cy="77.0" r="1.65" fill="#fff8ae"/>
<circle cx="256.3" cy="80.3" r="1.65" fill="#fff8ae"/>
<circle cx="259.7" cy="81.7" r="1.65" fill="#1f6fc1"/>
<circle cx="263.7" cy="82.3" r="1.65" fill="#1f6fc1"/>
<circle cx="261.7" cy="80.3" r="1.65" fill="#fff8ae"/>
<circle cx="266.7" cy="35.7" r="1.65" fill="#8fb0cc"/>
<circle cx="270.0" cy="37.0" r="1.65" fill="#8fb0cc"/>
<circle cx="272.0" cy="38.3" r="1.65" fill="#8fb0cc"/>
<circle cx="276.0" cy="37.0" r="1.65" fill="#8fb0cc"/>
<circle cx="280.0" cy="36.1" r="1.65" fill="#fff8ae"/>
<circle cx="277.3" cy="40.3" r="1.65" fill="#f79a5e"/>
<circle cx="274.0" cy="39.7" r="1.65" fill="#fff8ae"/>
<circle cx="268.0" cy="39.0" r="1.65" fill="#fff8ae"/>
<circle cx="260.7" cy="42.3" r="1.65" fill="#f79a5e"/>
<circle cx="266.0" cy="41.7" r="1.65" fill="#fff8ae"/>
<circle cx="270.0" cy="42.3" r="1.65" fill="#8fb0cc"/>
<circle cx="272.7" cy="43.0" r="1.65" fill="#1f6fc1"/>
<circle cx="266.7" cy="45.0" r="1.65" fill="#8fb0cc"/>
<circle cx="266.0" cy="47.0" r="1.65" fill="#1f6fc1"/>
<circle cx="260.0" cy="49.0" r="1.65" fill="#1f6fc1"/>
<circle cx="269.3" cy="46.3" r="1.65" fill="#fff8ae"/>
<circle cx="273.3" cy="47.7" r="1.65" fill="#f79a5e"/>
<circle cx="276.7" cy="49.0" r="1.65" fill="#fff8ae"/>
<circle cx="280.7" cy="47.0" r="1.65" fill="#8fb0cc"/>
<circle cx="283.3" cy="46.3" r="1.65" fill="#8fb0cc"/>
<circle cx="284.7" cy="43.0" r="1.65" fill="#f79a5e"/>
<circle cx="285.3" cy="40.3" r="1.65" fill="#fff8ae"/>
<circle cx="264.7" cy="50.3" r="1.65" fill="#fff8ae"/>
<circle cx="268.0" cy="51.7" r="1.65" fill="#fff8ae"/>
<circle cx="268.7" cy="54.3" r="1.65" fill="#f79a5e"/>
<circle cx="261.3" cy="51.7" r="1.65" fill="#fff8ae"/>
<circle cx="287.4" cy="64.7" r="1.65" fill="#1f6fc1"/>
<circle cx="255.7" cy="46.3" r="1.65" fill="#fff8ae"/>
<circle cx="259.0" cy="45.7" r="1.65" fill="#f79a5e"/>
<circle cx="263.0" cy="45.7" r="1.65" fill="#fff8ae"/>
<circle cx="272.3" cy="47.0" r="1.65" fill="#f79a5e"/>
<circle cx="275.0" cy="47.7" r="1.65" fill="#fff8ae"/>
<circle cx="278.3" cy="47.0" r="1.65" fill="#8fb0cc"/>
<circle cx="281.7" cy="46.3" r="1.65" fill="#8fb0cc"/>
<circle cx="257.7" cy="49.0" r="1.65" fill="#1f6fc1"/>
<circle cx="267.7" cy="50.3" r="1.65" fill="#fff8ae"/>
<circle cx="265.0" cy="53.0" r="1.65" fill="#fff8ae"/>
<circle cx="267.0" cy="57.0" r="1.65" fill="#f79a5e"/>
<circle cx="263.0" cy="55.7" r="1.65" fill="#8fb0cc"/>
<circle cx="259.7" cy="55.7" r="1.65" fill="#fff8ae"/>
<circle cx="256.3" cy="55.0" r="1.65" fill="#fff8ae"/>
<circle cx="260.3" cy="57.7" r="1.65" fill="#8fb0cc"/>
<circle cx="267.7" cy="62.3" r="1.65" fill="#f79a5e"/>
<circle cx="268.3" cy="64.3" r="1.65" fill="#8fb0cc"/>
<circle cx="269.7" cy="66.3" r="1.65" fill="#8fb0cc"/>
<circle cx="271.0" cy="69.0" r="1.65" fill="#f79a5e"/>
<circle cx="265.0" cy="76.3" r="1.65" fill="#fff8ae"/>
<circle cx="267.7" cy="76.3" r="1.65" fill="#fff8ae"/>
<circle cx="256.3" cy="77.7" r="1.65" fill="#8fb0cc"/>
<circle cx="259.0" cy="80.3" r="1.65" fill="#1f6fc1"/>
<circle cx="267.0" cy="79.9" r="1.65" fill="#1f6fc1"/>
<circle cx="265.0" cy="81.0" r="1.65" fill="#fff8ae"/>
<circle cx="289.7" cy="83.7" r="1.65" fill="#ee2a24"/>
<circle cx="289.0" cy="91.3" r="1.65" fill="#f79a5e"/>
<circle cx="293.3" cy="98.0" r="1.65" fill="#1f6fc1"/>
<circle cx="294.3" cy="98.7" r="1.65" fill="#8fb0cc"/>
<circle cx="292.3" cy="102.7" r="1.65" fill="#fff8ae"/>
<circle cx="291.0" cy="104.7" r="1.65" fill="#fff8ae"/>
<circle cx="282.3" cy="104.4" r="1.65" fill="#8fb0cc"/>
<circle cx="286.6" cy="106.0" r="1.65" fill="#8fb0cc"/>
<circle cx="287.7" cy="106.7" r="1.65" fill="#8fb0cc"/>
<circle cx="263.7" cy="102.0" r="1.65" fill="#8fb0cc"/>
<circle cx="312.3" cy="106.0" r="1.65" fill="#8fb0cc"/>
<circle cx="313.0" cy="107.1" r="1.65" fill="#1f6fc1"/>
<circle cx="310.3" cy="110.7" r="1.65" fill="#fff8ae"/>
<circle cx="309.7" cy="112.0" r="1.65" fill="#fff8ae"/>
<circle cx="261.0" cy="81.3" r="1.65" fill="#fff8ae"/>
<circle cx="269.0" cy="40.0" r="1.65" fill="#8fb0cc"/>
<circle cx="275.0" cy="37.5" r="1.65" fill="#8fb0cc"/>
<circle cx="259.0" cy="47.5" r="1.65" fill="#fff8ae"/>
<circle cx="265.0" cy="45.5" r="1.65" fill="#fff8ae"/>
<circle cx="268.0" cy="44.0" r="1.65" fill="#fff8ae"/>
<circle cx="272.0" cy="44.5" r="1.65" fill="#fff8ae"/>
<circle cx="268.5" cy="48.0" r="1.65" fill="#fff8ae"/>
<circle cx="266.5" cy="50.0" r="1.65" fill="#fff8ae"/>
<circle cx="270.0" cy="50.0" r="1.65" fill="#fff8ae"/>
<circle cx="252.5" cy="56.5" r="1.65" fill="#f79a5e"/>
<circle cx="274.0" cy="46.0" r="1.65" fill="#fff8ae"/>
<circle cx="279.5" cy="47.0" r="1.65" fill="#8fb0cc"/>
<circle cx="269.0" cy="38.0" r="1.65" fill="#8fb0cc"/>
</g>
<rect x="21.1" y="6.55" width="296.5" height="134.65" fill="none" stroke="#111" stroke-width="1"/>
<line x1="19" y1="26.4" x2="21" y2="26.4" stroke="#111" stroke-width="0.9"/>
<text class="tk" x="18" y="28.7" text-anchor="end">60°N</text>
<line x1="19" y1="50.9" x2="21" y2="50.9" stroke="#111" stroke-width="0.9"/>
<text class="tk" x="18" y="53.2" text-anchor="end">30°N</text>
<line x1="19" y1="75.5" x2="21" y2="75.5" stroke="#111" stroke-width="0.9"/>
<text class="tk" x="18" y="77.8" text-anchor="end">0°</text>
<line x1="19" y1="100.0" x2="21" y2="100.0" stroke="#111" stroke-width="0.9"/>
<text class="tk" x="18" y="102.3" text-anchor="end">30°S</text>
<line x1="19" y1="124.5" x2="21" y2="124.5" stroke="#111" stroke-width="0.9"/>
<text class="tk" x="18" y="126.8" text-anchor="end">60°S</text>
<text class="lab" x="23.8" y="17.0">a</text>
<text x="26.6" y="94.6" style="font-size:10.4px">ω<tspan dy="1.6" style="font-size:6.5px">i</tspan><tspan dy="-1.6"> (%)</tspan></text>
<rect x="28.1" y="101.6" width="10.4" height="28.2" fill="url(#cb)"/>
<text x="41.6" y="105.5" style="font-size:10px">-10</text>
<text x="41.6" y="133.8" style="font-size:10px">40</text>
<rect x="228" y="133.4" width="37" height="3.5" fill="#000"/>
<rect x="265" y="133.70000000000002" width="37" height="2.9" fill="#fff" stroke="#333" stroke-width="0.7"/>
<text x="228" y="130.4" text-anchor="middle" style="font-size:7.3px">0</text>
<text x="265" y="130.4" text-anchor="middle" style="font-size:7.3px">5,000</text>
<text x="302.4" y="130.4" text-anchor="middle" style="font-size:7.3px">10,000</text>
<text x="304" y="136.70000000000002" style="font-size:7px">km</text>
<g clip-path="url(#clipD)"><path d="M31.1 166.9 L32.8 164.5 L40.6 162.2 L53.3 163.5 L58.2 164.0 L64.0 163.2 L70.5 163.6 L74.6 164.9 L80.4 164.9 L86.9 164.9 L91.1 164.0 L91.9 161.6 L95.2 164.0 L99.3 163.6 L101.7 164.9 L99.3 166.5 L97.6 167.7 L93.5 168.9 L91.5 172.2 L93.1 173.9 L96.8 174.3 L101.3 175.5 L101.7 177.5 L103.4 178.5 L104.2 177.9 L104.2 175.9 L105.8 174.3 L105.0 172.4 L105.0 169.5 L108.7 169.8 L111.6 170.6 L112.0 172.4 L114.8 172.6 L116.1 171.2 L118.1 173.4 L119.8 175.5 L123.1 177.5 L119.8 179.4 L114.4 179.4 L111.6 181.6 L115.7 180.4 L116.1 182.0 L119.0 182.8 L116.5 184.1 L114.8 184.9 L114.8 183.7 L111.6 184.7 L111.0 186.1 L111.6 186.4 L108.3 187.3 L107.1 189.4 L106.6 190.2 L106.9 191.4 L105.4 192.5 L103.8 193.5 L102.4 194.7 L102.3 196.3 L103.3 198.8 L102.9 199.8 L101.9 199.0 L101.1 197.6 L100.1 195.9 L98.4 195.7 L96.0 195.8 L95.6 196.6 L93.9 196.3 L91.9 196.3 L89.4 197.6 L89.0 199.6 L88.8 202.1 L90.2 204.9 L91.5 205.6 L93.9 205.2 L94.7 203.3 L97.6 202.9 L97.2 204.5 L96.4 207.4 L98.4 207.5 L100.5 208.0 L100.3 211.0 L101.3 212.8 L103.4 212.9 L105.4 213.5 L107.1 211.6 L109.9 210.6 L110.3 211.6 L113.2 211.0 L116.5 211.8 L118.5 211.9 L119.8 213.5 L122.2 215.5 L124.7 215.7 L126.7 216.8 L128.0 219.2 L128.0 220.4 L129.6 221.3 L132.5 222.5 L135.4 222.9 L138.2 224.4 L140.1 224.9 L140.3 227.0 L138.6 229.9 L137.0 231.5 L137.0 234.3 L136.2 236.8 L135.4 238.4 L133.7 239.3 L131.3 240.1 L129.2 241.7 L129.0 243.7 L127.6 245.8 L125.9 247.4 L124.7 248.7 L122.2 248.8 L121.2 248.2 L122.2 250.3 L121.7 251.7 L118.1 252.3 L117.9 254.0 L115.7 254.0 L116.7 255.2 L115.3 257.2 L113.6 258.1 L114.8 259.7 L112.4 261.7 L112.8 263.4 L115.3 265.2 L112.8 265.7 L110.3 264.6 L107.9 263.4 L107.1 260.5 L108.3 258.1 L109.1 254.8 L108.5 252.7 L109.1 250.7 L110.3 247.4 L110.3 245.0 L111.2 240.9 L111.4 236.8 L111.2 235.4 L109.5 234.3 L106.6 231.9 L105.4 230.3 L104.2 227.4 L102.5 225.4 L102.3 224.1 L103.4 223.1 L102.7 222.2 L102.9 220.9 L103.4 219.8 L104.3 219.2 L105.4 217.2 L105.4 214.3 L103.8 213.3 L102.9 214.5 L100.9 213.7 L98.7 212.3 L97.2 209.8 L93.9 209.0 L91.5 207.2 L89.4 207.5 L86.1 206.1 L82.4 204.1 L82.4 202.1 L80.4 199.6 L78.7 198.0 L76.7 195.9 L74.9 194.5 L75.0 195.9 L76.7 198.0 L78.3 200.4 L79.0 201.6 L77.1 199.6 L75.0 197.6 L74.2 195.9 L72.8 193.8 L71.8 192.7 L70.0 192.2 L68.9 190.4 L68.5 189.5 L67.3 187.5 L67.0 185.3 L67.3 182.7 L66.7 180.9 L68.1 180.4 L66.4 179.3 L64.0 177.9 L61.9 175.9 L59.9 173.9 L57.4 172.6 L54.1 171.6 L50.8 171.2 L47.6 171.0 L44.7 172.0 L43.5 173.0 L40.2 174.1 L36.5 175.3 L34.0 175.8 L37.3 174.5 L39.4 172.6 L36.1 172.2 L34.0 171.0 L32.8 169.8 L34.0 168.9 L36.9 168.1 L34.8 167.6 L32.4 167.1 L31.1 166.9 M109.1 156.5 L113.2 155.1 L118.1 153.8 L128.0 153.2 L140.3 152.2 L151.0 153.4 L154.2 155.1 L153.4 157.1 L151.8 159.5 L151.0 162.0 L148.5 163.2 L143.6 164.7 L139.5 166.7 L136.2 167.3 L134.1 169.8 L132.9 171.4 L129.6 170.6 L127.2 168.1 L125.1 165.7 L125.5 163.6 L123.9 162.0 L121.4 158.7 L114.8 158.2 L110.7 157.3 L109.1 156.5 M103.4 160.2 L106.6 160.9 L109.9 162.0 L113.2 163.2 L114.0 164.5 L118.1 165.9 L116.5 167.3 L114.8 168.9 L113.2 169.4 L110.3 168.5 L108.3 167.7 L105.0 167.7 L105.8 166.5 L109.1 165.3 L106.6 164.0 L104.2 163.2 L99.3 163.2 L96.0 162.4 L95.2 160.8 L99.3 160.4 L103.4 160.2 M73.0 164.0 L76.3 164.5 L80.4 164.3 L85.3 164.0 L86.1 162.8 L82.8 160.8 L78.7 160.8 L73.0 161.2 L71.4 162.4 L73.0 164.0 M66.4 161.6 L69.7 162.2 L72.2 160.4 L69.7 159.5 L66.4 160.0 L66.4 161.6 M95.2 157.9 L103.4 158.2 L105.0 156.7 L111.6 155.1 L118.1 153.0 L107.5 152.6 L95.2 153.8 L93.5 155.9 L96.8 157.1 L95.2 157.9 M90.2 158.7 L103.4 158.6 L102.5 159.5 L93.5 159.5 L90.2 158.7 M73.0 159.0 L82.0 158.7 L82.0 158.1 L73.0 158.1 L73.0 159.0 M86.9 161.6 L90.2 161.6 L91.9 160.0 L86.9 160.4 L86.9 161.6 M97.6 168.1 L100.9 168.5 L102.5 167.7 L100.1 166.5 L97.6 167.3 L97.6 168.1 M120.3 181.5 L123.1 182.2 L125.5 182.3 L125.8 181.5 L125.1 180.1 L123.2 178.3 L121.8 179.2 L120.3 181.5 M64.0 178.9 L66.4 179.6 L67.7 180.9 L66.0 180.6 L64.0 178.9 M99.3 202.5 L101.7 201.5 L105.0 202.1 L108.1 203.9 L105.4 204.2 L105.0 203.3 L101.7 202.6 L99.3 202.5 M108.0 205.3 L109.5 204.2 L111.6 204.3 L112.9 205.2 L110.7 206.0 L108.0 205.3 M149.3 166.9 L151.0 166.2 L155.9 166.1 L157.8 167.3 L154.2 168.6 L150.5 168.3 L149.3 166.9 M164.5 191.0 L161.6 190.2 L161.2 188.8 L161.8 186.5 L161.4 185.3 L162.4 184.7 L166.1 184.9 L167.8 184.9 L168.0 182.8 L167.0 181.8 L165.2 181.0 L167.8 180.6 L167.6 179.8 L169.2 180.0 L170.3 178.9 L171.9 178.4 L172.7 177.5 L173.1 176.9 L175.6 176.6 L176.1 175.5 L175.7 173.9 L177.6 173.3 L177.2 174.7 L177.9 176.3 L178.9 176.1 L180.7 176.4 L184.2 175.7 L186.2 175.5 L186.2 173.9 L188.3 173.9 L188.9 172.8 L188.3 172.1 L192.0 171.8 L193.6 171.4 L190.3 171.1 L187.5 171.4 L186.5 170.6 L186.7 168.9 L189.5 167.3 L188.3 166.7 L186.7 167.3 L186.2 168.1 L183.4 169.4 L183.1 170.6 L184.4 171.4 L182.5 172.6 L182.4 174.3 L180.7 174.7 L179.5 175.1 L178.2 172.4 L177.6 172.0 L175.2 173.0 L173.5 172.4 L173.1 170.6 L173.9 169.4 L176.4 168.4 L178.9 166.9 L180.5 165.3 L183.0 164.0 L186.2 163.2 L190.1 162.4 L192.4 162.6 L194.4 163.1 L196.1 163.8 L199.4 164.0 L202.7 165.3 L202.2 166.2 L197.7 166.1 L196.1 166.1 L197.6 167.3 L199.4 168.1 L201.8 167.6 L201.8 166.5 L205.1 166.3 L205.5 164.6 L207.6 165.7 L213.3 164.6 L218.2 164.2 L221.9 163.8 L225.2 164.6 L224.0 162.4 L226.5 160.8 L228.9 162.0 L228.5 164.5 L229.3 165.7 L230.6 164.9 L230.1 161.6 L234.7 161.2 L235.5 160.2 L240.4 159.5 L249.4 158.3 L254.4 156.9 L256.8 157.7 L261.7 158.3 L262.1 160.2 L265.8 160.6 L270.8 160.2 L274.9 162.4 L278.1 162.0 L283.9 161.2 L292.1 162.0 L300.3 163.2 L301.9 163.5 L308.5 163.4 L309.3 164.0 L315.1 163.8 L316.7 164.2 M21.3 164.2 L25.4 165.3 L29.5 166.5 L27.0 167.7 L22.9 166.9 L21.3 167.3 M316.7 167.3 L314.7 167.6 L315.9 169.4 L311.8 169.9 L308.5 171.4 L305.2 171.4 L302.8 173.0 L301.9 174.7 L301.9 175.7 L300.3 177.1 L298.7 177.9 L297.6 178.8 L297.0 176.3 L297.0 173.9 L299.9 171.8 L302.8 170.0 L300.3 170.0 L297.4 170.2 L296.2 172.0 L293.7 172.2 L291.3 171.8 L286.4 172.0 L283.9 173.4 L281.8 175.9 L284.7 176.9 L284.9 177.9 L284.3 179.6 L283.9 181.2 L282.3 183.3 L280.2 184.7 L278.1 185.5 L276.5 185.7 L275.4 186.6 L273.6 187.9 L275.1 190.2 L275.1 191.4 L273.6 192.1 L272.6 192.1 L272.8 190.2 L271.6 189.5 L271.8 188.2 L271.0 187.8 L269.1 187.3 L268.5 188.6 L265.8 188.4 L266.7 189.8 L269.5 189.9 L267.9 191.0 L266.9 191.8 L268.1 193.9 L269.0 195.1 L269.0 196.5 L267.5 198.8 L265.8 200.4 L264.2 201.6 L262.1 202.2 L259.7 203.0 L259.3 203.9 L258.0 202.7 L256.6 203.7 L255.8 204.9 L257.2 207.0 L258.5 208.6 L258.6 210.8 L256.8 211.9 L255.3 213.3 L255.0 212.0 L253.1 210.6 L251.8 209.6 L251.1 209.6 L250.5 211.9 L251.5 214.5 L252.9 215.4 L253.9 216.8 L254.5 219.2 L253.9 219.4 L252.1 218.1 L251.3 215.5 L249.7 213.9 L250.0 211.9 L249.3 208.6 L249.1 207.0 L247.2 207.5 L246.4 207.4 L246.4 205.3 L244.7 203.3 L244.1 202.1 L242.0 202.5 L240.4 202.9 L240.0 204.1 L238.8 204.5 L236.5 206.8 L234.8 207.8 L234.8 209.8 L234.5 212.0 L233.8 212.8 L232.6 213.8 L231.6 212.7 L230.6 210.2 L229.7 208.2 L228.9 205.3 L228.7 203.3 L226.9 203.4 L225.6 202.2 L224.2 200.4 L221.5 199.8 L219.5 199.8 L216.2 199.4 L215.4 198.4 L213.7 198.6 L211.3 197.6 L210.0 195.9 L208.8 195.9 L208.4 196.3 L210.0 198.6 L210.6 200.0 L211.3 200.4 L213.3 200.7 L215.0 199.2 L215.4 200.4 L217.2 201.2 L218.1 202.1 L216.4 204.9 L214.1 206.6 L211.7 207.6 L208.8 209.0 L205.9 210.0 L204.7 210.1 L204.0 208.2 L202.7 205.3 L201.0 202.9 L199.8 200.4 L197.7 197.6 L197.6 196.3 L196.1 197.6 L195.7 195.9 L195.5 194.9 L197.2 194.9 L197.7 193.5 L198.5 191.4 L198.5 190.4 L196.1 190.9 L194.0 190.6 L192.0 190.4 L191.2 189.4 L190.6 188.2 L191.2 187.3 L192.8 186.8 L194.9 186.8 L197.7 186.1 L200.2 186.9 L203.1 186.5 L202.7 185.3 L200.2 184.1 L199.6 183.3 L201.0 181.9 L197.7 182.6 L196.5 184.1 L195.7 182.8 L194.3 182.4 L193.4 183.4 L192.4 184.9 L192.0 186.4 L190.6 187.1 L188.5 187.2 L187.7 187.4 L188.3 188.3 L187.9 189.4 L188.7 189.6 L187.7 190.6 L186.5 189.8 L185.4 188.0 L184.9 186.5 L184.2 185.7 L182.1 184.9 L180.9 183.5 L180.3 183.1 L179.1 183.4 L179.3 184.5 L180.5 185.7 L182.1 186.3 L184.2 187.6 L183.0 187.3 L182.5 188.2 L183.1 188.6 L182.1 189.4 L181.9 189.4 L182.1 188.2 L180.9 187.2 L179.1 186.4 L177.6 185.3 L176.2 184.2 L175.2 184.7 L173.1 185.0 L171.6 185.1 L171.6 186.3 L169.7 187.1 L168.8 188.2 L169.2 188.8 L168.4 189.7 L167.4 190.4 L165.3 190.4 L164.5 191.0 M164.2 191.2 L167.4 191.7 L169.8 190.6 L173.1 190.4 L177.2 190.0 L178.0 190.4 L177.2 192.4 L178.0 193.2 L181.3 194.0 L184.6 195.7 L185.4 195.1 L185.6 193.9 L187.9 193.8 L189.5 194.5 L192.8 195.2 L194.4 194.7 L195.5 194.9 L195.7 195.9 L196.5 197.6 L198.1 200.8 L199.5 203.3 L199.6 205.2 L201.0 207.4 L202.7 208.4 L204.5 210.2 L204.5 211.0 L205.5 211.9 L207.6 211.3 L211.1 210.8 L210.7 212.7 L208.4 216.8 L205.1 219.6 L203.1 221.9 L201.8 222.9 L201.0 225.4 L201.4 227.0 L202.2 229.0 L202.4 232.7 L199.4 234.8 L197.7 236.8 L198.1 239.9 L195.9 241.5 L195.9 243.3 L194.0 245.8 L191.2 248.1 L187.1 248.5 L185.4 248.9 L184.0 248.2 L183.9 246.6 L182.5 243.9 L181.3 241.7 L180.9 238.4 L178.9 235.2 L178.9 232.7 L180.3 230.3 L179.9 227.8 L179.0 225.4 L178.7 224.1 L176.6 221.7 L176.8 219.6 L177.0 217.6 L176.0 216.8 L173.9 216.9 L172.7 215.3 L170.6 215.3 L167.8 216.4 L165.7 216.2 L162.9 216.9 L161.2 215.5 L158.8 214.1 L157.9 212.4 L156.7 211.5 L155.2 210.2 L154.6 208.4 L155.5 207.0 L155.6 204.5 L155.1 203.3 L155.9 201.1 L157.1 199.2 L158.3 197.7 L160.8 196.3 L161.0 194.7 L162.0 193.2 L163.4 192.7 L164.2 191.2 M209.5 230.3 L210.3 233.1 L209.6 234.8 L208.0 240.1 L206.3 241.3 L205.1 240.9 L204.5 238.4 L205.4 236.8 L205.4 233.9 L207.2 233.3 L208.4 231.5 L209.5 230.3 M164.3 179.6 L166.1 179.3 L170.1 178.6 L169.4 178.3 L170.4 177.4 L169.2 177.1 L168.8 176.3 L167.8 175.5 L167.4 174.7 L166.5 174.7 L167.4 173.3 L165.7 173.3 L166.5 172.5 L164.9 172.5 L164.1 173.4 L164.5 174.7 L165.1 175.1 L165.1 175.7 L166.5 175.9 L166.5 176.8 L165.3 176.9 L165.6 177.7 L164.7 178.1 L166.1 178.3 L165.3 178.8 L164.3 179.6 M160.8 178.2 L163.8 177.8 L164.1 176.7 L164.5 175.9 L163.0 175.2 L162.0 175.9 L160.8 176.1 L161.6 177.0 L160.6 177.8 L160.8 178.2 M276.4 192.7 L277.7 192.4 L279.8 192.2 L281.4 192.2 L282.9 191.8 L283.9 191.7 L284.6 190.6 L284.7 189.1 L285.5 188.0 L285.1 186.7 L283.9 187.2 L283.7 188.6 L282.7 190.0 L281.4 190.0 L280.6 191.0 L278.1 191.4 L276.4 192.7 M283.9 186.4 L284.7 185.7 L286.6 186.1 L288.4 185.1 L287.4 184.5 L285.5 183.3 L285.3 185.1 L284.1 185.1 L283.9 186.4 M275.7 193.1 L277.1 192.9 L276.9 194.7 L275.9 194.9 L275.7 193.1 M285.5 176.1 L286.4 177.1 L286.8 179.6 L287.7 180.4 L286.4 180.6 L286.2 182.6 L285.5 182.8 L285.5 179.6 L285.5 176.1 M268.3 199.8 L269.1 200.0 L268.1 202.5 L267.6 201.6 L268.3 199.8 M258.2 204.7 L259.7 204.1 L260.1 204.5 L258.9 205.6 L258.2 204.7 M234.7 212.4 L235.6 213.5 L236.1 214.7 L235.1 215.5 L234.5 214.7 L234.7 212.4 M247.2 215.9 L249.0 216.2 L251.3 218.4 L253.9 221.3 L256.0 222.9 L255.8 225.2 L254.8 224.9 L252.7 223.3 L251.3 221.3 L250.0 219.1 L248.6 217.6 L247.2 215.9 M255.3 226.0 L257.6 225.8 L259.9 225.7 L261.5 226.2 L263.0 226.7 L262.8 227.6 L259.3 227.1 L256.4 226.5 L255.3 226.0 M258.5 219.2 L260.3 218.2 L261.7 217.8 L263.8 216.0 L265.0 214.7 L266.2 216.0 L265.7 217.6 L265.8 219.6 L265.4 221.1 L264.4 223.6 L263.0 223.7 L260.5 223.1 L259.3 221.7 L258.5 220.2 L258.5 219.2 M267.3 219.8 L268.3 219.5 L271.2 219.4 L270.2 220.1 L267.9 220.2 L268.7 221.3 L269.9 221.2 L269.1 222.1 L269.7 224.1 L268.7 224.3 L268.1 222.7 L267.7 224.9 L267.1 224.9 L267.1 223.1 L266.5 222.7 L267.3 219.8 M276.5 221.1 L279.0 221.1 L279.8 223.1 L282.1 221.7 L284.7 222.6 L287.6 223.6 L289.6 225.4 L290.3 226.6 L292.5 229.0 L289.6 228.5 L287.6 226.7 L285.5 228.0 L283.1 227.0 L282.3 226.2 L282.7 224.9 L279.8 224.1 L278.0 223.7 L278.6 222.5 L277.3 222.7 L276.5 221.1 M267.9 205.3 L269.3 205.3 L269.1 207.1 L268.7 208.8 L270.8 209.8 L270.4 210.1 L268.3 209.3 L267.6 208.4 L267.5 207.1 L267.9 205.3 M269.1 214.7 L270.4 213.3 L272.0 212.4 L272.8 214.3 L272.0 215.7 L270.8 215.1 L269.1 214.7 M262.3 238.4 L262.7 241.7 L264.0 246.2 L263.4 248.5 L265.8 249.1 L270.4 248.2 L272.4 246.9 L274.9 246.4 L276.9 246.2 L279.4 247.4 L280.6 249.1 L282.0 247.4 L282.3 249.5 L283.6 250.7 L284.7 251.7 L286.8 252.2 L288.0 251.5 L289.1 252.3 L290.5 251.4 L292.1 250.9 L292.7 249.1 L293.2 247.8 L294.1 246.9 L295.0 243.7 L294.6 241.3 L292.9 239.8 L291.7 238.7 L290.9 236.8 L289.1 236.0 L288.4 232.7 L287.2 232.1 L286.8 230.7 L285.9 229.3 L285.3 231.1 L285.1 233.1 L284.5 234.8 L283.1 234.6 L280.6 233.1 L280.2 232.3 L281.3 230.4 L279.8 230.4 L277.7 229.9 L276.5 230.4 L275.4 232.5 L274.5 232.5 L273.2 231.9 L271.6 233.1 L270.4 234.6 L269.3 235.2 L268.3 236.5 L265.0 237.4 L263.4 238.0 L262.3 238.4 M287.7 253.7 L290.6 253.8 L290.5 255.6 L289.2 256.0 L288.2 255.2 L287.7 253.7 M310.7 248.7 L312.2 250.1 L313.3 250.5 L315.1 251.2 L314.3 252.7 L312.9 254.5 L312.4 254.2 L312.6 253.2 L311.6 252.6 L312.4 251.1 L310.7 248.7 M310.7 253.6 L312.0 254.6 L310.8 256.0 L309.3 257.2 L308.9 258.1 L307.3 258.5 L305.6 258.1 L306.9 256.7 L309.3 255.2 L310.7 253.6 M211.3 162.0 L214.1 160.8 L215.8 159.1 L219.9 158.2 L225.2 157.7 L223.2 158.7 L218.2 160.0 L215.8 161.6 L216.2 162.7 L212.9 162.6 L211.3 162.0 M178.0 155.9 L182.1 155.1 L187.1 154.8 L191.2 155.1 L186.2 156.3 L184.2 157.3 L181.3 157.5 L180.1 156.7 L178.0 155.9 M247.0 155.9 L251.1 154.2 L255.2 155.5 L251.1 156.3 L247.0 155.9 M281.4 158.7 L286.4 158.3 L292.1 159.1 L288.0 159.4 L283.1 159.4 L281.4 158.7 M209.2 182.4 L212.1 182.4 L212.5 183.7 L210.9 184.1 L212.1 185.7 L212.5 187.8 L213.3 189.8 L210.9 190.4 L209.2 189.6 L209.6 187.3 L208.0 185.3 L207.6 183.7 L209.2 182.4 M21.3 284.5 L33.6 284.5 L39.4 283.6 L45.9 283.0 L54.1 282.0 L64.0 280.9 L74.6 280.9 L84.5 280.1 L86.9 279.7 L96.8 280.1 L105.0 280.1 L109.9 279.7 L113.2 277.3 L114.8 275.2 L117.3 273.4 L120.6 272.4 L122.2 272.3 L119.4 273.6 L118.1 274.8 L116.5 276.4 L119.0 278.9 L119.0 281.4 L114.8 283.0 L106.6 283.8 L119.8 285.0 L132.1 284.2 L139.5 284.2 L144.4 283.0 L152.6 280.5 L159.2 278.9 L164.9 278.2 L169.0 277.7 L177.2 277.7 L185.4 277.7 L193.6 276.9 L197.7 276.9 L201.8 276.4 L205.9 275.6 L210.0 274.8 L214.1 274.4 L218.2 275.5 L222.3 275.8 L226.5 276.4 L228.9 277.4 L233.0 276.4 L238.8 274.8 L242.9 274.8 L251.1 274.4 L259.3 274.4 L267.5 275.1 L275.7 274.4 L283.9 275.0 L292.1 276.3 L300.3 277.7 L304.4 278.3 L308.5 279.1 L305.2 281.4 L303.6 283.8 L308.5 284.5 L316.7 284.5" fill="none" stroke="#b6b6b6" stroke-width="0.5" stroke-linejoin="round"/>
<circle cx="46.9" cy="169.6" r="1.65" fill="#8fb0cc"/>
<circle cx="76.0" cy="176.7" r="1.65" fill="#f79a5e"/>
<circle cx="75.3" cy="178.7" r="1.65" fill="#f79a5e"/>
<circle cx="81.6" cy="177.1" r="1.65" fill="#ee2a24"/>
<circle cx="83.3" cy="178.7" r="1.65" fill="#ee2a24"/>
<circle cx="89.6" cy="179.3" r="1.65" fill="#ee2a24"/>
<circle cx="71.7" cy="179.3" r="1.65" fill="#1f6fc1"/>
<circle cx="68.7" cy="181.3" r="1.65" fill="#fff8ae"/>
<circle cx="72.7" cy="182.0" r="1.65" fill="#fff8ae"/>
<circle cx="86.7" cy="181.3" r="1.65" fill="#8fb0cc"/>
<circle cx="68.0" cy="184.0" r="1.65" fill="#f79a5e"/>
<circle cx="70.0" cy="184.7" r="1.65" fill="#1f6fc1"/>
<circle cx="74.0" cy="184.0" r="1.65" fill="#8fb0cc"/>
<circle cx="78.0" cy="182.0" r="1.65" fill="#8fb0cc"/>
<circle cx="78.0" cy="184.7" r="1.65" fill="#1f6fc1"/>
<circle cx="82.7" cy="184.7" r="1.65" fill="#1f6fc1"/>
<circle cx="85.3" cy="184.0" r="1.65" fill="#1f6fc1"/>
<circle cx="80.7" cy="183.3" r="1.65" fill="#8fb0cc"/>
<circle cx="90.0" cy="184.0" r="1.65" fill="#ee2a24"/>
<circle cx="92.7" cy="183.3" r="1.65" fill="#fff8ae"/>
<circle cx="97.3" cy="184.0" r="1.65" fill="#f79a5e"/>
<circle cx="99.3" cy="185.3" r="1.65" fill="#f79a5e"/>
<circle cx="94.7" cy="186.0" r="1.65" fill="#f79a5e"/>
<circle cx="68.7" cy="187.3" r="1.65" fill="#8fb0cc"/>
<circle cx="71.3" cy="188.0" r="1.65" fill="#1f6fc1"/>
<circle cx="75.3" cy="186.7" r="1.65" fill="#8fb0cc"/>
<circle cx="80.0" cy="188.0" r="1.65" fill="#1f6fc1"/>
<circle cx="84.0" cy="188.7" r="1.65" fill="#8fb0cc"/>
<circle cx="87.3" cy="186.7" r="1.65" fill="#fff8ae"/>
<circle cx="90.7" cy="188.0" r="1.65" fill="#fff8ae"/>
<circle cx="93.3" cy="188.7" r="1.65" fill="#fff8ae"/>
<circle cx="96.0" cy="188.7" r="1.65" fill="#fff8ae"/>
<circle cx="98.7" cy="191.3" r="1.65" fill="#8fb0cc"/>
<circle cx="93.3" cy="190.7" r="1.65" fill="#8fb0cc"/>
<circle cx="71.3" cy="190.7" r="1.65" fill="#ee2a24"/>
<circle cx="73.3" cy="192.0" r="1.65" fill="#8fb0cc"/>
<circle cx="76.0" cy="191.3" r="1.65" fill="#8fb0cc"/>
<circle cx="78.7" cy="192.0" r="1.65" fill="#8fb0cc"/>
<circle cx="81.3" cy="191.3" r="1.65" fill="#1f6fc1"/>
<circle cx="86.0" cy="192.7" r="1.65" fill="#ee2a24"/>
<circle cx="90.0" cy="192.0" r="1.65" fill="#fff8ae"/>
<circle cx="92.7" cy="193.3" r="1.65" fill="#fff8ae"/>
<circle cx="96.0" cy="192.7" r="1.65" fill="#fff8ae"/>
<circle cx="98.7" cy="194.7" r="1.65" fill="#8fb0cc"/>
<circle cx="73.3" cy="194.7" r="1.65" fill="#8fb0cc"/>
<circle cx="76.0" cy="195.3" r="1.65" fill="#f79a5e"/>
<circle cx="78.7" cy="195.3" r="1.65" fill="#1f6fc1"/>
<circle cx="82.7" cy="195.3" r="1.65" fill="#8fb0cc"/>
<circle cx="87.3" cy="196.7" r="1.65" fill="#fff8ae"/>
<circle cx="90.7" cy="195.3" r="1.65" fill="#fff8ae"/>
<circle cx="86.7" cy="198.7" r="1.65" fill="#ee2a24"/>
<circle cx="94.7" cy="196.0" r="1.65" fill="#fff8ae"/>
<circle cx="80.0" cy="198.0" r="1.65" fill="#8fb0cc"/>
<circle cx="77.3" cy="197.3" r="1.65" fill="#8fb0cc"/>
<circle cx="125.7" cy="181.3" r="1.65" fill="#8fb0cc"/>
<circle cx="116.7" cy="183.1" r="1.65" fill="#8fb0cc"/>
<circle cx="118.0" cy="182.3" r="1.65" fill="#8fb0cc"/>
<circle cx="114.0" cy="182.0" r="1.65" fill="#fff8ae"/>
<circle cx="110.0" cy="183.3" r="1.65" fill="#fff8ae"/>
<circle cx="108.0" cy="184.0" r="1.65" fill="#8fb0cc"/>
<circle cx="111.3" cy="185.3" r="1.65" fill="#fff8ae"/>
<circle cx="102.7" cy="182.3" r="1.65" fill="#1f6fc1"/>
<circle cx="94.0" cy="184.0" r="1.65" fill="#f79a5e"/>
<circle cx="98.7" cy="186.7" r="1.65" fill="#f79a5e"/>
<circle cx="102.0" cy="186.0" r="1.65" fill="#fff8ae"/>
<circle cx="90.7" cy="180.0" r="1.65" fill="#ee2a24"/>
<circle cx="92.0" cy="186.0" r="1.65" fill="#f79a5e"/>
<circle cx="91.3" cy="190.0" r="1.65" fill="#fff8ae"/>
<circle cx="96.0" cy="190.0" r="1.65" fill="#fff8ae"/>
<circle cx="105.3" cy="187.3" r="1.65" fill="#8fb0cc"/>
<circle cx="108.0" cy="187.3" r="1.65" fill="#8fb0cc"/>
<circle cx="110.0" cy="188.0" r="1.65" fill="#fff8ae"/>
<circle cx="103.3" cy="190.0" r="1.65" fill="#8fb0cc"/>
<circle cx="106.0" cy="190.0" r="1.65" fill="#8fb0cc"/>
<circle cx="101.3" cy="191.3" r="1.65" fill="#8fb0cc"/>
<circle cx="104.7" cy="192.7" r="1.65" fill="#8fb0cc"/>
<circle cx="102.0" cy="194.0" r="1.65" fill="#8fb0cc"/>
<circle cx="104.0" cy="195.3" r="1.65" fill="#8fb0cc"/>
<circle cx="92.7" cy="196.0" r="1.65" fill="#fff8ae"/>
<circle cx="96.0" cy="195.3" r="1.65" fill="#fff8ae"/>
<circle cx="90.7" cy="198.0" r="1.65" fill="#f79a5e"/>
<circle cx="102.7" cy="197.3" r="1.65" fill="#8fb0cc"/>
<circle cx="104.0" cy="198.7" r="1.65" fill="#8fb0cc"/>
<circle cx="101.3" cy="201.6" r="1.65" fill="#ee2a24"/>
<circle cx="98.0" cy="202.7" r="1.65" fill="#fff8ae"/>
<circle cx="96.0" cy="203.1" r="1.65" fill="#8fb0cc"/>
<circle cx="92.0" cy="204.0" r="1.65" fill="#fff8ae"/>
<circle cx="94.0" cy="206.7" r="1.65" fill="#fff8ae"/>
<circle cx="105.7" cy="205.3" r="1.65" fill="#8fb0cc"/>
<circle cx="110.0" cy="205.3" r="1.65" fill="#fff8ae"/>
<circle cx="112.4" cy="205.3" r="1.65" fill="#f79a5e"/>
<circle cx="115.3" cy="205.3" r="1.65" fill="#8fb0cc"/>
<circle cx="119.1" cy="206.7" r="1.65" fill="#8fb0cc"/>
<circle cx="119.6" cy="208.7" r="1.65" fill="#8fb0cc"/>
<circle cx="100.0" cy="208.7" r="1.65" fill="#8fb0cc"/>
<circle cx="96.7" cy="208.7" r="1.65" fill="#fff8ae"/>
<circle cx="102.0" cy="196.3" r="1.65" fill="#8fb0cc"/>
<circle cx="81.3" cy="200.3" r="1.65" fill="#8fb0cc"/>
<circle cx="84.7" cy="201.0" r="1.65" fill="#fff8ae"/>
<circle cx="89.7" cy="198.7" r="1.65" fill="#f79a5e"/>
<circle cx="88.7" cy="203.0" r="1.65" fill="#fff8ae"/>
<circle cx="85.3" cy="203.7" r="1.65" fill="#fff8ae"/>
<circle cx="90.7" cy="204.3" r="1.65" fill="#fff8ae"/>
<circle cx="98.7" cy="199.7" r="1.65" fill="#8fb0cc"/>
<circle cx="95.3" cy="208.3" r="1.65" fill="#fff8ae"/>
<circle cx="98.7" cy="208.3" r="1.65" fill="#fff8ae"/>
<circle cx="100.7" cy="212.3" r="1.65" fill="#fff8ae"/>
<circle cx="104.0" cy="213.0" r="1.65" fill="#8fb0cc"/>
<circle cx="109.3" cy="204.3" r="1.65" fill="#fff8ae"/>
<circle cx="108.0" cy="211.3" r="1.65" fill="#8fb0cc"/>
<circle cx="110.4" cy="211.7" r="1.65" fill="#f79a5e"/>
<circle cx="114.0" cy="211.7" r="1.65" fill="#8fb0cc"/>
<circle cx="118.0" cy="211.7" r="1.65" fill="#fff8ae"/>
<circle cx="107.3" cy="215.0" r="1.65" fill="#f79a5e"/>
<circle cx="108.4" cy="216.6" r="1.65" fill="#f79a5e"/>
<circle cx="108.0" cy="218.3" r="1.65" fill="#1f6fc1"/>
<circle cx="105.7" cy="219.0" r="1.65" fill="#fff8ae"/>
<circle cx="104.4" cy="221.0" r="1.65" fill="#fff8ae"/>
<circle cx="103.3" cy="222.3" r="1.65" fill="#fff8ae"/>
<circle cx="124.0" cy="215.7" r="1.65" fill="#8fb0cc"/>
<circle cx="119.3" cy="217.9" r="1.65" fill="#fff8ae"/>
<circle cx="120.0" cy="223.0" r="1.65" fill="#8fb0cc"/>
<circle cx="129.3" cy="221.4" r="1.65" fill="#8fb0cc"/>
<circle cx="116.7" cy="227.3" r="1.65" fill="#8fb0cc"/>
<circle cx="106.3" cy="230.3" r="1.65" fill="#8fb0cc"/>
<circle cx="110.7" cy="233.7" r="1.65" fill="#1f6fc1"/>
<circle cx="114.0" cy="233.9" r="1.65" fill="#8fb0cc"/>
<circle cx="117.3" cy="234.3" r="1.65" fill="#f79a5e"/>
<circle cx="123.3" cy="233.0" r="1.65" fill="#8fb0cc"/>
<circle cx="128.7" cy="233.7" r="1.65" fill="#fff8ae"/>
<circle cx="124.3" cy="237.0" r="1.65" fill="#f79a5e"/>
<circle cx="127.7" cy="237.0" r="1.65" fill="#ee2a24"/>
<circle cx="130.3" cy="237.0" r="1.65" fill="#ee2a24"/>
<circle cx="127.0" cy="239.0" r="1.65" fill="#ee2a24"/>
<circle cx="129.0" cy="239.7" r="1.65" fill="#ee2a24"/>
<circle cx="133.0" cy="236.3" r="1.65" fill="#fff8ae"/>
<circle cx="136.3" cy="237.0" r="1.65" fill="#f79a5e"/>
<circle cx="134.3" cy="239.0" r="1.65" fill="#fff8ae"/>
<circle cx="131.7" cy="240.3" r="1.65" fill="#fff8ae"/>
<circle cx="137.7" cy="231.0" r="1.65" fill="#fff8ae"/>
<circle cx="136.3" cy="227.7" r="1.65" fill="#8fb0cc"/>
<circle cx="137.4" cy="226.1" r="1.65" fill="#8fb0cc"/>
<circle cx="140.3" cy="227.0" r="1.65" fill="#f79a5e"/>
<circle cx="140.3" cy="229.0" r="1.65" fill="#fff8ae"/>
<circle cx="135.0" cy="225.7" r="1.65" fill="#fff8ae"/>
<circle cx="115.7" cy="242.1" r="1.65" fill="#ee2a24"/>
<circle cx="121.7" cy="241.7" r="1.65" fill="#8fb0cc"/>
<circle cx="123.0" cy="242.3" r="1.65" fill="#8fb0cc"/>
<circle cx="130.3" cy="242.3" r="1.65" fill="#8fb0cc"/>
<circle cx="128.3" cy="243.7" r="1.65" fill="#ee2a24"/>
<circle cx="127.0" cy="245.0" r="1.65" fill="#fff8ae"/>
<circle cx="116.3" cy="245.7" r="1.65" fill="#ee2a24"/>
<circle cx="119.7" cy="247.0" r="1.65" fill="#f79a5e"/>
<circle cx="121.7" cy="248.3" r="1.65" fill="#f79a5e"/>
<circle cx="123.7" cy="249.0" r="1.65" fill="#ee2a24"/>
<circle cx="111.7" cy="247.0" r="1.65" fill="#8fb0cc"/>
<circle cx="110.3" cy="247.0" r="1.65" fill="#f79a5e"/>
<circle cx="113.4" cy="252.3" r="1.65" fill="#1f6fc1"/>
<circle cx="133.3" cy="222.0" r="1.65" fill="#fff8ae"/>
<circle cx="137.3" cy="223.7" r="1.65" fill="#8fb0cc"/>
<circle cx="140.4" cy="225.3" r="1.65" fill="#f79a5e"/>
<circle cx="155.6" cy="208.3" r="1.65" fill="#8fb0cc"/>
<circle cx="162.7" cy="210.0" r="1.65" fill="#8fb0cc"/>
<circle cx="168.0" cy="210.0" r="1.65" fill="#8fb0cc"/>
<circle cx="158.0" cy="212.7" r="1.65" fill="#fff8ae"/>
<circle cx="160.7" cy="214.7" r="1.65" fill="#fff8ae"/>
<circle cx="165.3" cy="212.0" r="1.65" fill="#fff8ae"/>
<circle cx="167.3" cy="216.7" r="1.65" fill="#f79a5e"/>
<circle cx="168.7" cy="214.7" r="1.65" fill="#fff8ae"/>
<circle cx="173.3" cy="170.9" r="1.65" fill="#8fb0cc"/>
<circle cx="174.0" cy="173.1" r="1.65" fill="#f79a5e"/>
<circle cx="178.0" cy="172.0" r="1.65" fill="#fff8ae"/>
<circle cx="184.0" cy="172.0" r="1.65" fill="#f79a5e"/>
<circle cx="188.7" cy="170.4" r="1.65" fill="#f79a5e"/>
<circle cx="190.0" cy="172.7" r="1.65" fill="#f79a5e"/>
<circle cx="193.3" cy="171.3" r="1.65" fill="#fff8ae"/>
<circle cx="186.7" cy="173.3" r="1.65" fill="#fff8ae"/>
<circle cx="180.7" cy="173.3" r="1.65" fill="#fff8ae"/>
<circle cx="166.7" cy="174.7" r="1.65" fill="#ee2a24"/>
<circle cx="164.0" cy="176.7" r="1.65" fill="#f79a5e"/>
<circle cx="167.3" cy="177.3" r="1.65" fill="#f79a5e"/>
<circle cx="170.0" cy="176.0" r="1.65" fill="#fff8ae"/>
<circle cx="172.0" cy="177.3" r="1.65" fill="#f79a5e"/>
<circle cx="174.7" cy="176.7" r="1.65" fill="#f79a5e"/>
<circle cx="177.3" cy="175.3" r="1.65" fill="#f79a5e"/>
<circle cx="180.0" cy="176.7" r="1.65" fill="#f79a5e"/>
<circle cx="182.7" cy="175.3" r="1.65" fill="#f79a5e"/>
<circle cx="185.3" cy="176.7" r="1.65" fill="#f79a5e"/>
<circle cx="188.0" cy="174.7" r="1.65" fill="#fff8ae"/>
<circle cx="190.0" cy="176.0" r="1.65" fill="#ee2a24"/>
<circle cx="192.0" cy="176.7" r="1.65" fill="#f79a5e"/>
<circle cx="195.3" cy="175.3" r="1.65" fill="#fff8ae"/>
<circle cx="200.0" cy="176.7" r="1.65" fill="#fff8ae"/>
<circle cx="202.7" cy="175.3" r="1.65" fill="#ee2a24"/>
<circle cx="205.3" cy="174.7" r="1.65" fill="#f79a5e"/>
<circle cx="209.3" cy="174.7" r="1.65" fill="#f79a5e"/>
<circle cx="207.3" cy="177.3" r="1.65" fill="#fff8ae"/>
<circle cx="168.7" cy="179.3" r="1.65" fill="#ee2a24"/>
<circle cx="171.3" cy="180.0" r="1.65" fill="#f79a5e"/>
<circle cx="174.0" cy="179.3" r="1.65" fill="#f79a5e"/>
<circle cx="176.7" cy="180.0" r="1.65" fill="#f79a5e"/>
<circle cx="179.3" cy="179.3" r="1.65" fill="#f79a5e"/>
<circle cx="182.0" cy="179.3" r="1.65" fill="#f79a5e"/>
<circle cx="184.7" cy="180.0" r="1.65" fill="#f79a5e"/>
<circle cx="188.0" cy="178.7" r="1.65" fill="#8fb0cc"/>
<circle cx="188.7" cy="180.7" r="1.65" fill="#f79a5e"/>
<circle cx="191.3" cy="180.0" r="1.65" fill="#fff8ae"/>
<circle cx="194.0" cy="180.7" r="1.65" fill="#ee2a24"/>
<circle cx="196.0" cy="179.3" r="1.65" fill="#fff8ae"/>
<circle cx="200.7" cy="180.7" r="1.65" fill="#ee2a24"/>
<circle cx="203.3" cy="180.0" r="1.65" fill="#fff8ae"/>
<circle cx="206.0" cy="180.0" r="1.65" fill="#8fb0cc"/>
<circle cx="208.7" cy="181.3" r="1.65" fill="#8fb0cc"/>
<circle cx="162.3" cy="184.7" r="1.65" fill="#f79a5e"/>
<circle cx="168.0" cy="183.3" r="1.65" fill="#fff8ae"/>
<circle cx="170.7" cy="184.0" r="1.65" fill="#f79a5e"/>
<circle cx="168.7" cy="186.0" r="1.65" fill="#f79a5e"/>
<circle cx="173.3" cy="184.7" r="1.65" fill="#fff8ae"/>
<circle cx="176.0" cy="183.3" r="1.65" fill="#8fb0cc"/>
<circle cx="178.7" cy="184.0" r="1.65" fill="#8fb0cc"/>
<circle cx="181.3" cy="183.3" r="1.65" fill="#8fb0cc"/>
<circle cx="178.0" cy="186.0" r="1.65" fill="#8fb0cc"/>
<circle cx="184.0" cy="182.7" r="1.65" fill="#fff8ae"/>
<circle cx="186.0" cy="184.0" r="1.65" fill="#ee2a24"/>
<circle cx="188.0" cy="185.1" r="1.65" fill="#1f6fc1"/>
<circle cx="189.3" cy="183.3" r="1.65" fill="#fff8ae"/>
<circle cx="192.0" cy="184.0" r="1.65" fill="#f79a5e"/>
<circle cx="194.7" cy="184.0" r="1.65" fill="#fff8ae"/>
<circle cx="197.3" cy="184.7" r="1.65" fill="#fff8ae"/>
<circle cx="199.3" cy="185.3" r="1.65" fill="#ee2a24"/>
<circle cx="202.0" cy="184.0" r="1.65" fill="#fff8ae"/>
<circle cx="204.7" cy="184.7" r="1.65" fill="#fff8ae"/>
<circle cx="207.3" cy="183.3" r="1.65" fill="#8fb0cc"/>
<circle cx="209.3" cy="185.3" r="1.65" fill="#8fb0cc"/>
<circle cx="160.7" cy="188.7" r="1.65" fill="#ee2a24"/>
<circle cx="163.3" cy="188.0" r="1.65" fill="#ee2a24"/>
<circle cx="164.0" cy="190.0" r="1.65" fill="#ee2a24"/>
<circle cx="167.3" cy="187.3" r="1.65" fill="#fff8ae"/>
<circle cx="170.0" cy="188.0" r="1.65" fill="#8fb0cc"/>
<circle cx="172.7" cy="187.3" r="1.65" fill="#fff8ae"/>
<circle cx="168.0" cy="190.7" r="1.65" fill="#f79a5e"/>
<circle cx="171.3" cy="190.7" r="1.65" fill="#f79a5e"/>
<circle cx="176.0" cy="188.7" r="1.65" fill="#8fb0cc"/>
<circle cx="178.7" cy="188.0" r="1.65" fill="#8fb0cc"/>
<circle cx="181.3" cy="187.3" r="1.65" fill="#fff8ae"/>
<circle cx="183.3" cy="186.0" r="1.65" fill="#ee2a24"/>
<circle cx="180.7" cy="190.0" r="1.65" fill="#fff8ae"/>
<circle cx="178.0" cy="191.3" r="1.65" fill="#fff8ae"/>
<circle cx="174.7" cy="191.3" r="1.65" fill="#fff8ae"/>
<circle cx="188.7" cy="188.7" r="1.65" fill="#8fb0cc"/>
<circle cx="191.3" cy="188.7" r="1.65" fill="#f79a5e"/>
<circle cx="194.0" cy="190.0" r="1.65" fill="#f79a5e"/>
<circle cx="196.7" cy="188.7" r="1.65" fill="#fff8ae"/>
<circle cx="199.3" cy="188.7" r="1.65" fill="#fff8ae"/>
<circle cx="203.3" cy="187.3" r="1.65" fill="#8fb0cc"/>
<circle cx="206.0" cy="188.7" r="1.65" fill="#8fb0cc"/>
<circle cx="208.7" cy="188.0" r="1.65" fill="#8fb0cc"/>
<circle cx="162.7" cy="192.0" r="1.65" fill="#ee2a24"/>
<circle cx="162.0" cy="194.0" r="1.65" fill="#ee2a24"/>
<circle cx="160.7" cy="196.0" r="1.65" fill="#ee2a24"/>
<circle cx="180.0" cy="193.3" r="1.65" fill="#fff8ae"/>
<circle cx="182.0" cy="193.3" r="1.65" fill="#fff8ae"/>
<circle cx="185.3" cy="194.0" r="1.65" fill="#f79a5e"/>
<circle cx="192.7" cy="194.7" r="1.65" fill="#ee2a24"/>
<circle cx="196.7" cy="192.7" r="1.65" fill="#f79a5e"/>
<circle cx="198.7" cy="192.0" r="1.65" fill="#fff8ae"/>
<circle cx="201.3" cy="191.3" r="1.65" fill="#fff8ae"/>
<circle cx="205.3" cy="192.7" r="1.65" fill="#ee2a24"/>
<circle cx="204.7" cy="194.7" r="1.65" fill="#f79a5e"/>
<circle cx="208.7" cy="192.0" r="1.65" fill="#fff8ae"/>
<circle cx="196.7" cy="195.3" r="1.65" fill="#1f6fc1"/>
<circle cx="198.7" cy="196.0" r="1.65" fill="#1f6fc1"/>
<circle cx="195.3" cy="196.7" r="1.65" fill="#8fb0cc"/>
<circle cx="208.7" cy="196.0" r="1.65" fill="#fff8ae"/>
<circle cx="203.3" cy="196.7" r="1.65" fill="#f79a5e"/>
<circle cx="200.7" cy="198.0" r="1.65" fill="#f79a5e"/>
<circle cx="197.3" cy="196.3" r="1.65" fill="#1f6fc1"/>
<circle cx="196.0" cy="198.3" r="1.65" fill="#8fb0cc"/>
<circle cx="206.0" cy="198.3" r="1.65" fill="#f79a5e"/>
<circle cx="201.3" cy="200.3" r="1.65" fill="#8fb0cc"/>
<circle cx="208.7" cy="200.3" r="1.65" fill="#fff8ae"/>
<circle cx="201.3" cy="203.0" r="1.65" fill="#fff8ae"/>
<circle cx="171.1" cy="209.0" r="1.65" fill="#8fb0cc"/>
<circle cx="176.0" cy="210.7" r="1.65" fill="#fff8ae"/>
<circle cx="174.7" cy="213.0" r="1.65" fill="#fff8ae"/>
<circle cx="181.7" cy="210.3" r="1.65" fill="#8fb0cc"/>
<circle cx="172.0" cy="213.7" r="1.65" fill="#fff8ae"/>
<circle cx="166.7" cy="215.7" r="1.65" fill="#fff8ae"/>
<circle cx="176.7" cy="216.3" r="1.65" fill="#fff8ae"/>
<circle cx="178.0" cy="218.3" r="1.65" fill="#fff8ae"/>
<circle cx="184.4" cy="216.3" r="1.65" fill="#fff8ae"/>
<circle cx="176.0" cy="219.7" r="1.65" fill="#fff8ae"/>
<circle cx="178.7" cy="224.1" r="1.65" fill="#8fb0cc"/>
<circle cx="182.0" cy="223.7" r="1.65" fill="#fff8ae"/>
<circle cx="180.4" cy="227.7" r="1.65" fill="#8fb0cc"/>
<circle cx="196.0" cy="207.7" r="1.65" fill="#8fb0cc"/>
<circle cx="205.7" cy="208.1" r="1.65" fill="#8fb0cc"/>
<circle cx="200.7" cy="212.7" r="1.65" fill="#f79a5e"/>
<circle cx="206.3" cy="218.7" r="1.65" fill="#8fb0cc"/>
<circle cx="196.0" cy="219.7" r="1.65" fill="#fff8ae"/>
<circle cx="194.0" cy="221.7" r="1.65" fill="#fff8ae"/>
<circle cx="193.3" cy="223.0" r="1.65" fill="#fff8ae"/>
<circle cx="198.7" cy="221.0" r="1.65" fill="#fff8ae"/>
<circle cx="198.3" cy="225.4" r="1.65" fill="#1f6fc1"/>
<circle cx="196.4" cy="227.4" r="1.65" fill="#f79a5e"/>
<circle cx="200.7" cy="226.3" r="1.65" fill="#fff8ae"/>
<circle cx="190.0" cy="229.0" r="1.65" fill="#8fb0cc"/>
<circle cx="192.0" cy="230.3" r="1.65" fill="#8fb0cc"/>
<circle cx="196.9" cy="231.7" r="1.65" fill="#fff8ae"/>
<circle cx="193.3" cy="233.7" r="1.65" fill="#8fb0cc"/>
<circle cx="201.3" cy="233.0" r="1.65" fill="#fff8ae"/>
<circle cx="197.3" cy="234.3" r="1.65" fill="#8fb0cc"/>
<circle cx="179.0" cy="225.7" r="1.65" fill="#8fb0cc"/>
<circle cx="192.3" cy="233.0" r="1.65" fill="#fff8ae"/>
<circle cx="194.6" cy="235.0" r="1.65" fill="#8fb0cc"/>
<circle cx="197.7" cy="236.7" r="1.65" fill="#8fb0cc"/>
<circle cx="192.3" cy="237.3" r="1.65" fill="#8fb0cc"/>
<circle cx="195.0" cy="238.3" r="1.65" fill="#f79a5e"/>
<circle cx="183.0" cy="238.3" r="1.65" fill="#8fb0cc"/>
<circle cx="190.1" cy="240.3" r="1.65" fill="#8fb0cc"/>
<circle cx="192.3" cy="241.7" r="1.65" fill="#fff8ae"/>
<circle cx="195.4" cy="241.3" r="1.65" fill="#8fb0cc"/>
<circle cx="190.3" cy="244.3" r="1.65" fill="#f79a5e"/>
<circle cx="193.7" cy="245.0" r="1.65" fill="#fff8ae"/>
<circle cx="184.3" cy="247.9" r="1.65" fill="#fff8ae"/>
<circle cx="190.1" cy="247.9" r="1.65" fill="#8fb0cc"/>
<circle cx="208.3" cy="235.7" r="1.65" fill="#8fb0cc"/>
<circle cx="214.3" cy="237.7" r="1.65" fill="#8fb0cc"/>
<circle cx="216.3" cy="236.7" r="1.65" fill="#f79a5e"/>
<circle cx="229.0" cy="170.4" r="1.65" fill="#8fb0cc"/>
<circle cx="212.7" cy="173.3" r="1.65" fill="#1f6fc1"/>
<circle cx="215.0" cy="173.3" r="1.65" fill="#8fb0cc"/>
<circle cx="218.3" cy="173.3" r="1.65" fill="#8fb0cc"/>
<circle cx="222.3" cy="173.3" r="1.65" fill="#fff8ae"/>
<circle cx="205.7" cy="176.7" r="1.65" fill="#fff8ae"/>
<circle cx="210.3" cy="177.3" r="1.65" fill="#8fb0cc"/>
<circle cx="214.3" cy="178.0" r="1.65" fill="#f79a5e"/>
<circle cx="217.7" cy="178.0" r="1.65" fill="#1f6fc1"/>
<circle cx="219.0" cy="176.0" r="1.65" fill="#fff8ae"/>
<circle cx="207.7" cy="180.0" r="1.65" fill="#8fb0cc"/>
<circle cx="205.7" cy="181.3" r="1.65" fill="#8fb0cc"/>
<circle cx="211.7" cy="181.3" r="1.65" fill="#1f6fc1"/>
<circle cx="208.3" cy="184.0" r="1.65" fill="#8fb0cc"/>
<circle cx="229.0" cy="175.3" r="1.65" fill="#f79a5e"/>
<circle cx="231.0" cy="178.0" r="1.65" fill="#1f6fc1"/>
<circle cx="227.7" cy="178.7" r="1.65" fill="#8fb0cc"/>
<circle cx="233.7" cy="178.0" r="1.65" fill="#fff8ae"/>
<circle cx="237.0" cy="175.7" r="1.65" fill="#fff8ae"/>
<circle cx="239.9" cy="176.7" r="1.65" fill="#8fb0cc"/>
<circle cx="243.7" cy="177.1" r="1.65" fill="#8fb0cc"/>
<circle cx="245.0" cy="174.4" r="1.65" fill="#fff8ae"/>
<circle cx="237.0" cy="180.0" r="1.65" fill="#fff8ae"/>
<circle cx="254.3" cy="177.3" r="1.65" fill="#8fb0cc"/>
<circle cx="257.3" cy="178.0" r="1.65" fill="#1f6fc1"/>
<circle cx="261.7" cy="177.6" r="1.65" fill="#8fb0cc"/>
<circle cx="256.7" cy="181.1" r="1.65" fill="#8fb0cc"/>
<circle cx="217.7" cy="185.3" r="1.65" fill="#ee2a24"/>
<circle cx="222.3" cy="184.0" r="1.65" fill="#8fb0cc"/>
<circle cx="225.0" cy="184.7" r="1.65" fill="#8fb0cc"/>
<circle cx="226.3" cy="186.0" r="1.65" fill="#ee2a24"/>
<circle cx="228.3" cy="187.3" r="1.65" fill="#f79a5e"/>
<circle cx="231.0" cy="186.7" r="1.65" fill="#8fb0cc"/>
<circle cx="233.7" cy="185.3" r="1.65" fill="#8fb0cc"/>
<circle cx="235.7" cy="184.4" r="1.65" fill="#1f6fc1"/>
<circle cx="238.3" cy="184.0" r="1.65" fill="#8fb0cc"/>
<circle cx="240.7" cy="184.7" r="1.65" fill="#8fb0cc"/>
<circle cx="235.0" cy="187.3" r="1.65" fill="#f79a5e"/>
<circle cx="245.7" cy="185.3" r="1.65" fill="#8fb0cc"/>
<circle cx="249.7" cy="187.7" r="1.65" fill="#8fb0cc"/>
<circle cx="264.3" cy="184.3" r="1.65" fill="#1f6fc1"/>
<circle cx="212.3" cy="187.3" r="1.65" fill="#1f6fc1"/>
<circle cx="215.0" cy="188.7" r="1.65" fill="#8fb0cc"/>
<circle cx="218.3" cy="190.0" r="1.65" fill="#8fb0cc"/>
<circle cx="221.7" cy="188.0" r="1.65" fill="#1f6fc1"/>
<circle cx="223.7" cy="190.0" r="1.65" fill="#8fb0cc"/>
<circle cx="209.7" cy="188.7" r="1.65" fill="#8fb0cc"/>
<circle cx="206.3" cy="192.0" r="1.65" fill="#f79a5e"/>
<circle cx="211.0" cy="192.0" r="1.65" fill="#8fb0cc"/>
<circle cx="214.3" cy="193.3" r="1.65" fill="#8fb0cc"/>
<circle cx="211.7" cy="196.7" r="1.65" fill="#f79a5e"/>
<circle cx="215.7" cy="195.3" r="1.65" fill="#8fb0cc"/>
<circle cx="209.0" cy="198.7" r="1.65" fill="#f79a5e"/>
<circle cx="214.3" cy="198.7" r="1.65" fill="#fff8ae"/>
<circle cx="229.7" cy="192.7" r="1.65" fill="#fff8ae"/>
<circle cx="235.0" cy="190.0" r="1.65" fill="#fff8ae"/>
<circle cx="228.3" cy="194.7" r="1.65" fill="#ee2a24"/>
<circle cx="230.3" cy="195.3" r="1.65" fill="#ee2a24"/>
<circle cx="232.3" cy="196.0" r="1.65" fill="#ee2a24"/>
<circle cx="233.7" cy="198.0" r="1.65" fill="#ee2a24"/>
<circle cx="226.3" cy="198.7" r="1.65" fill="#ee2a24"/>
<circle cx="229.7" cy="198.0" r="1.65" fill="#ee2a24"/>
<circle cx="237.0" cy="198.0" r="1.65" fill="#ee2a24"/>
<circle cx="239.0" cy="196.7" r="1.65" fill="#fff8ae"/>
<circle cx="243.7" cy="196.0" r="1.65" fill="#1f6fc1"/>
<circle cx="241.0" cy="199.3" r="1.65" fill="#f79a5e"/>
<circle cx="253.7" cy="190.4" r="1.65" fill="#1f6fc1"/>
<circle cx="256.3" cy="188.7" r="1.65" fill="#f79a5e"/>
<circle cx="258.3" cy="190.0" r="1.65" fill="#fff8ae"/>
<circle cx="255.0" cy="193.3" r="1.65" fill="#fff8ae"/>
<circle cx="254.3" cy="196.0" r="1.65" fill="#f79a5e"/>
<circle cx="257.7" cy="194.0" r="1.65" fill="#f79a5e"/>
<circle cx="259.7" cy="192.7" r="1.65" fill="#fff8ae"/>
<circle cx="262.3" cy="191.3" r="1.65" fill="#fff8ae"/>
<circle cx="264.3" cy="194.0" r="1.65" fill="#ee2a24"/>
<circle cx="261.7" cy="194.7" r="1.65" fill="#fff8ae"/>
<circle cx="251.7" cy="198.7" r="1.65" fill="#8fb0cc"/>
<circle cx="258.3" cy="198.7" r="1.65" fill="#fff8ae"/>
<circle cx="262.3" cy="198.0" r="1.65" fill="#fff8ae"/>
<circle cx="231.7" cy="199.3" r="1.65" fill="#ee2a24"/>
<circle cx="226.3" cy="200.0" r="1.65" fill="#ee2a24"/>
<circle cx="229.7" cy="202.0" r="1.65" fill="#ee2a24"/>
<circle cx="233.0" cy="202.0" r="1.65" fill="#ee2a24"/>
<circle cx="236.3" cy="202.7" r="1.65" fill="#ee2a24"/>
<circle cx="239.7" cy="201.3" r="1.65" fill="#ee2a24"/>
<circle cx="242.3" cy="200.7" r="1.65" fill="#ee2a24"/>
<circle cx="243.7" cy="200.0" r="1.65" fill="#ee2a24"/>
<circle cx="229.0" cy="204.7" r="1.65" fill="#f79a5e"/>
<circle cx="233.7" cy="205.3" r="1.65" fill="#ee2a24"/>
<circle cx="237.0" cy="206.0" r="1.65" fill="#f79a5e"/>
<circle cx="239.7" cy="203.3" r="1.65" fill="#f79a5e"/>
<circle cx="225.0" cy="200.0" r="1.65" fill="#8fb0cc"/>
<circle cx="233.7" cy="208.7" r="1.65" fill="#ee2a24"/>
<circle cx="232.3" cy="210.7" r="1.65" fill="#ee2a24"/>
<circle cx="235.0" cy="210.0" r="1.65" fill="#ee2a24"/>
<circle cx="231.7" cy="212.0" r="1.65" fill="#ee2a24"/>
<circle cx="235.4" cy="214.3" r="1.65" fill="#8fb0cc"/>
<circle cx="234.3" cy="215.3" r="1.65" fill="#fff8ae"/>
<circle cx="211.0" cy="199.3" r="1.65" fill="#fff8ae"/>
<circle cx="215.0" cy="200.0" r="1.65" fill="#fff8ae"/>
<circle cx="255.7" cy="198.7" r="1.65" fill="#8fb0cc"/>
<circle cx="255.0" cy="201.3" r="1.65" fill="#8fb0cc"/>
<circle cx="258.3" cy="200.7" r="1.65" fill="#f79a5e"/>
<circle cx="261.0" cy="202.0" r="1.65" fill="#f79a5e"/>
<circle cx="263.7" cy="199.3" r="1.65" fill="#f79a5e"/>
<circle cx="264.3" cy="203.3" r="1.65" fill="#fff8ae"/>
<circle cx="247.7" cy="206.7" r="1.65" fill="#ee2a24"/>
<circle cx="250.3" cy="204.7" r="1.65" fill="#ee2a24"/>
<circle cx="253.0" cy="205.3" r="1.65" fill="#ee2a24"/>
<circle cx="256.3" cy="205.3" r="1.65" fill="#8fb0cc"/>
<circle cx="258.3" cy="208.0" r="1.65" fill="#8fb0cc"/>
<circle cx="251.7" cy="210.0" r="1.65" fill="#f79a5e"/>
<circle cx="256.3" cy="211.1" r="1.65" fill="#ee2a24"/>
<circle cx="252.3" cy="214.7" r="1.65" fill="#f79a5e"/>
<circle cx="255.0" cy="213.3" r="1.65" fill="#fff8ae"/>
<circle cx="249.7" cy="217.3" r="1.65" fill="#8fb0cc"/>
<circle cx="253.0" cy="218.7" r="1.65" fill="#8fb0cc"/>
<circle cx="251.0" cy="221.3" r="1.65" fill="#1f6fc1"/>
<circle cx="255.7" cy="222.0" r="1.65" fill="#fff8ae"/>
<circle cx="259.0" cy="219.3" r="1.65" fill="#8fb0cc"/>
<circle cx="263.7" cy="215.3" r="1.65" fill="#8fb0cc"/>
<circle cx="262.3" cy="218.7" r="1.65" fill="#fff8ae"/>
<circle cx="264.3" cy="221.3" r="1.65" fill="#fff8ae"/>
<circle cx="256.3" cy="225.3" r="1.65" fill="#fff8ae"/>
<circle cx="259.7" cy="226.0" r="1.65" fill="#ee2a24"/>
<circle cx="263.0" cy="227.3" r="1.65" fill="#ee2a24"/>
<circle cx="261.7" cy="223.3" r="1.65" fill="#fff8ae"/>
<circle cx="235.7" cy="198.0" r="1.65" fill="#ee2a24"/>
<circle cx="238.3" cy="198.7" r="1.65" fill="#fff8ae"/>
<circle cx="267.3" cy="180.3" r="1.65" fill="#fff8ae"/>
<circle cx="271.3" cy="182.4" r="1.65" fill="#8fb0cc"/>
<circle cx="276.0" cy="182.0" r="1.65" fill="#fff8ae"/>
<circle cx="280.0" cy="180.7" r="1.65" fill="#8fb0cc"/>
<circle cx="268.0" cy="185.3" r="1.65" fill="#fff8ae"/>
<circle cx="272.0" cy="184.7" r="1.65" fill="#f79a5e"/>
<circle cx="274.7" cy="186.0" r="1.65" fill="#fff8ae"/>
<circle cx="277.3" cy="185.1" r="1.65" fill="#8fb0cc"/>
<circle cx="285.3" cy="184.7" r="1.65" fill="#8fb0cc"/>
<circle cx="284.7" cy="187.3" r="1.65" fill="#f79a5e"/>
<circle cx="260.7" cy="187.3" r="1.65" fill="#8fb0cc"/>
<circle cx="263.3" cy="188.7" r="1.65" fill="#8fb0cc"/>
<circle cx="266.7" cy="188.7" r="1.65" fill="#fff8ae"/>
<circle cx="270.0" cy="188.0" r="1.65" fill="#fff8ae"/>
<circle cx="273.3" cy="189.3" r="1.65" fill="#fff8ae"/>
<circle cx="266.0" cy="192.0" r="1.65" fill="#fff8ae"/>
<circle cx="269.3" cy="191.3" r="1.65" fill="#fff8ae"/>
<circle cx="276.0" cy="192.0" r="1.65" fill="#f79a5e"/>
<circle cx="277.1" cy="194.0" r="1.65" fill="#f79a5e"/>
<circle cx="281.3" cy="190.7" r="1.65" fill="#f79a5e"/>
<circle cx="283.3" cy="191.3" r="1.65" fill="#f79a5e"/>
<circle cx="264.0" cy="195.3" r="1.65" fill="#f79a5e"/>
<circle cx="267.3" cy="194.7" r="1.65" fill="#8fb0cc"/>
<circle cx="268.0" cy="196.7" r="1.65" fill="#8fb0cc"/>
<circle cx="265.3" cy="198.7" r="1.65" fill="#fff8ae"/>
<circle cx="269.3" cy="199.3" r="1.65" fill="#fff8ae"/>
<circle cx="272.7" cy="194.0" r="1.65" fill="#fff8ae"/>
<circle cx="287.4" cy="209.3" r="1.65" fill="#8fb0cc"/>
<circle cx="289.7" cy="228.0" r="1.65" fill="#1f6fc1"/>
<circle cx="255.7" cy="191.3" r="1.65" fill="#f79a5e"/>
<circle cx="275.0" cy="192.7" r="1.65" fill="#f79a5e"/>
<circle cx="279.0" cy="191.3" r="1.65" fill="#f79a5e"/>
<circle cx="259.7" cy="198.0" r="1.65" fill="#fff8ae"/>
<circle cx="266.3" cy="199.3" r="1.65" fill="#fff8ae"/>
<circle cx="257.0" cy="203.3" r="1.65" fill="#f79a5e"/>
<circle cx="267.7" cy="202.0" r="1.65" fill="#f79a5e"/>
<circle cx="267.7" cy="208.0" r="1.65" fill="#f79a5e"/>
<circle cx="269.0" cy="210.7" r="1.65" fill="#8fb0cc"/>
<circle cx="270.7" cy="212.7" r="1.65" fill="#fff8ae"/>
<circle cx="262.3" cy="216.7" r="1.65" fill="#fff8ae"/>
<circle cx="256.3" cy="217.3" r="1.65" fill="#fff8ae"/>
<circle cx="261.0" cy="221.3" r="1.65" fill="#8fb0cc"/>
<circle cx="267.7" cy="221.3" r="1.65" fill="#8fb0cc"/>
<circle cx="266.3" cy="224.4" r="1.65" fill="#ee2a24"/>
<circle cx="289.0" cy="236.1" r="1.65" fill="#8fb0cc"/>
<circle cx="294.6" cy="242.7" r="1.65" fill="#8fb0cc"/>
<circle cx="292.7" cy="243.0" r="1.65" fill="#fff8ae"/>
<circle cx="293.7" cy="247.0" r="1.65" fill="#8fb0cc"/>
<circle cx="291.4" cy="248.6" r="1.65" fill="#8fb0cc"/>
<circle cx="288.3" cy="250.7" r="1.65" fill="#fff8ae"/>
<circle cx="286.1" cy="251.3" r="1.65" fill="#f79a5e"/>
<circle cx="282.3" cy="248.3" r="1.65" fill="#fff8ae"/>
<circle cx="263.9" cy="246.7" r="1.65" fill="#8fb0cc"/>
<circle cx="312.3" cy="250.3" r="1.65" fill="#8fb0cc"/>
<circle cx="313.7" cy="251.7" r="1.65" fill="#f79a5e"/>
<circle cx="310.6" cy="255.4" r="1.65" fill="#8fb0cc"/>
<circle cx="261.3" cy="227.0" r="1.65" fill="#f79a5e"/>
<circle cx="173.3" cy="175.3" r="1.65" fill="#f79a5e"/>
<circle cx="176.0" cy="178.3" r="1.65" fill="#f79a5e"/>
<circle cx="178.7" cy="178.0" r="1.65" fill="#f79a5e"/>
<circle cx="181.3" cy="177.6" r="1.65" fill="#f79a5e"/>
<circle cx="184.0" cy="178.3" r="1.65" fill="#f79a5e"/>
<circle cx="186.7" cy="178.7" r="1.65" fill="#f79a5e"/>
<circle cx="180.7" cy="174.7" r="1.65" fill="#f79a5e"/>
<circle cx="183.3" cy="177.1" r="1.65" fill="#f79a5e"/>
<circle cx="172.7" cy="178.9" r="1.65" fill="#f79a5e"/>
<circle cx="178.0" cy="181.3" r="1.65" fill="#f79a5e"/>
<circle cx="180.7" cy="181.1" r="1.65" fill="#f79a5e"/>
<circle cx="176.0" cy="174.9" r="1.65" fill="#f79a5e"/>
<circle cx="186.0" cy="174.9" r="1.65" fill="#f79a5e"/>
<circle cx="170.0" cy="178.0" r="1.65" fill="#f79a5e"/>
<circle cx="169.3" cy="181.3" r="1.65" fill="#fff8ae"/>
<circle cx="166.0" cy="178.7" r="1.65" fill="#f79a5e"/>
</g>
<rect x="21.1" y="151.55" width="296.5" height="134.65" fill="none" stroke="#111" stroke-width="1"/>
<line x1="19" y1="171.4" x2="21" y2="171.4" stroke="#111" stroke-width="0.9"/>
<text class="tk" x="18" y="173.7" text-anchor="end">60°N</text>
<line x1="19" y1="195.9" x2="21" y2="195.9" stroke="#111" stroke-width="0.9"/>
<text class="tk" x="18" y="198.2" text-anchor="end">30°N</text>
<line x1="19" y1="220.4" x2="21" y2="220.4" stroke="#111" stroke-width="0.9"/>
<text class="tk" x="18" y="222.8" text-anchor="end">0°</text>
<line x1="19" y1="245.0" x2="21" y2="245.0" stroke="#111" stroke-width="0.9"/>
<text class="tk" x="18" y="247.3" text-anchor="end">30°S</text>
<line x1="19" y1="269.5" x2="21" y2="269.5" stroke="#111" stroke-width="0.9"/>
<text class="tk" x="18" y="271.8" text-anchor="end">60°S</text>
<line x1="21.3" y1="286.2" x2="21.3" y2="288.8" stroke="#111" stroke-width="0.9"/>
<text class="tk" x="21.8" y="296.4" text-anchor="middle">180°</text>
<line x1="45.9" y1="286.2" x2="45.9" y2="288.8" stroke="#111" stroke-width="0.9"/>
<text class="tk" x="46.4" y="296.4" text-anchor="middle">150°W</text>
<line x1="70.5" y1="286.2" x2="70.5" y2="288.8" stroke="#111" stroke-width="0.9"/>
<text class="tk" x="71.0" y="296.4" text-anchor="middle">120°W</text>
<line x1="95.2" y1="286.2" x2="95.2" y2="288.8" stroke="#111" stroke-width="0.9"/>
<text class="tk" x="95.7" y="296.4" text-anchor="middle">90°W</text>
<line x1="119.8" y1="286.2" x2="119.8" y2="288.8" stroke="#111" stroke-width="0.9"/>
<text class="tk" x="120.3" y="296.4" text-anchor="middle">60°W</text>
<line x1="144.4" y1="286.2" x2="144.4" y2="288.8" stroke="#111" stroke-width="0.9"/>
<text class="tk" x="144.9" y="296.4" text-anchor="middle">30°W</text>
<line x1="169.0" y1="286.2" x2="169.0" y2="288.8" stroke="#111" stroke-width="0.9"/>
<text class="tk" x="169.5" y="296.4" text-anchor="middle">0°</text>
<line x1="193.6" y1="286.2" x2="193.6" y2="288.8" stroke="#111" stroke-width="0.9"/>
<text class="tk" x="194.1" y="296.4" text-anchor="middle">30°E</text>
<line x1="218.2" y1="286.2" x2="218.2" y2="288.8" stroke="#111" stroke-width="0.9"/>
<text class="tk" x="218.7" y="296.4" text-anchor="middle">60°E</text>
<line x1="242.9" y1="286.2" x2="242.9" y2="288.8" stroke="#111" stroke-width="0.9"/>
<text class="tk" x="243.4" y="296.4" text-anchor="middle">90°E</text>
<line x1="267.5" y1="286.2" x2="267.5" y2="288.8" stroke="#111" stroke-width="0.9"/>
<text class="tk" x="268.0" y="296.4" text-anchor="middle">120°E</text>
<line x1="292.1" y1="286.2" x2="292.1" y2="288.8" stroke="#111" stroke-width="0.9"/>
<text class="tk" x="292.6" y="296.4" text-anchor="middle">150°E</text>
<line x1="316.7" y1="286.2" x2="316.7" y2="288.8" stroke="#111" stroke-width="0.9"/>
<text class="tk" x="317.2" y="296.4" text-anchor="middle">180°</text>
<text class="lab" x="24.0" y="162.9">d</text>
<text x="27.6" y="241.1" style="font-size:10.4px">ω<tspan dy="1.6" style="font-size:6.5px">d</tspan><tspan dy="-1.6"> (%)</tspan></text>
<rect x="29.1" y="248.1" width="10.4" height="28.2" fill="url(#cb)"/>
<text x="42.6" y="252.0" style="font-size:10px">-10</text>
<text x="42.6" y="280.3" style="font-size:10px">50</text>
<rect x="228" y="278.4" width="37" height="3.5" fill="#000"/>
<rect x="265" y="278.7" width="37" height="2.9" fill="#fff" stroke="#333" stroke-width="0.7"/>
<text x="228" y="275.4" text-anchor="middle" style="font-size:7.3px">0</text>
<text x="265" y="275.4" text-anchor="middle" style="font-size:7.3px">5,000</text>
<text x="302.4" y="275.4" text-anchor="middle" style="font-size:7.3px">10,000</text>
<text x="304" y="281.7" style="font-size:7px">km</text>
<polygon points="348.7,6.5 343.3,20.7 343.3,40.0 343.7,47.0 344.0,53.0 343.7,60.0 344.3,66.7 345.3,73.3 344.5,80.0 343.3,88.3 342.0,95.0 341.3,100.0 340.0,108.3 340.3,115.0 340.7,127.8 367.7,127.8 366.0,113.7 362.7,108.3 358.7,100.0 360.7,95.0 363.3,88.3 362.4,81.7 360.2,76.0 361.3,73.3 363.3,66.7 365.3,60.0 367.0,53.0 366.7,40.0 366.7,20.7 370.0,6.5" fill="#e4e4e4"/>
<polyline points="360.7,6.5 354.3,20.7 355.0,40.0 355.3,47.0 355.0,60.0 352.7,74.0 352.7,88.0 349.6,100.7 354.0,113.7 354.3,127.8" fill="none" stroke="#ee2a24" stroke-width="1.1" stroke-linejoin="round"/>
<rect x="326.7" y="6.4" width="45.50" height="121.35" fill="none" stroke="#111" stroke-width="1"/>
<line x1="372.2" y1="20.7" x2="373.7" y2="20.7" stroke="#111" stroke-width="0.9"/>
<text class="t8" x="373.9" y="23.8">40°N</text>
<line x1="372.2" y1="47.4" x2="373.7" y2="47.4" stroke="#111" stroke-width="0.9"/>
<text class="t8" x="373.9" y="50.5">20°N</text>
<line x1="372.2" y1="74.0" x2="373.7" y2="74.0" stroke="#111" stroke-width="0.9"/>
<text class="t8" x="373.9" y="77.2">0</text>
<line x1="372.2" y1="100.7" x2="373.7" y2="100.7" stroke="#111" stroke-width="0.9"/>
<text class="t8" x="373.9" y="103.9">20°S</text>
<line x1="372.2" y1="127.4" x2="373.7" y2="127.4" stroke="#111" stroke-width="0.9"/>
<text class="t8" x="373.9" y="130.5">40°S</text>
<line x1="326.7" y1="127.75" x2="326.7" y2="129.25" stroke="#111" stroke-width="0.8"/>
<text class="t8" x="326.7" y="137.2" text-anchor="middle">0</text>
<line x1="349.4" y1="127.75" x2="349.4" y2="129.25" stroke="#111" stroke-width="0.8"/>
<text class="t8" x="349.4" y="137.2" text-anchor="middle">20</text>
<line x1="372.2" y1="127.75" x2="372.2" y2="129.25" stroke="#111" stroke-width="0.8"/>
<text class="t8" x="372.2" y="137.2" text-anchor="middle">40</text>
<text class="lab" x="327.8" y="19.6">b</text>
<text class="ttl" x="349.9" y="145.8" text-anchor="middle"><tspan class="om">ω</tspan><tspan dy="1.5" style="font-size:6px">i</tspan><tspan dy="-1.5"> (%)</tspan></text>
<polygon points="339.3,151.5 332.0,165.7 334.0,185.0 334.4,192.3 334.4,198.0 332.0,205.0 333.3,211.7 335.3,218.3 333.3,226.7 332.3,232.7 330.7,240.0 330.4,245.7 331.0,253.3 329.6,260.0 329.8,274.1 365.5,274.1 363.7,260.0 358.7,253.3 352.0,245.7 355.3,240.0 359.7,232.7 358.0,226.7 355.3,220.0 356.0,218.3 361.3,211.7 364.0,205.0 363.7,198.0 364.7,192.3 365.0,185.0 365.3,165.7 369.6,151.5" fill="#e4e4e4"/>
<polyline points="355.7,151.5 347.3,165.7 348.3,185.0 349.0,192.3 349.0,198.0 348.3,205.0 346.7,211.7 345.6,218.3 345.3,226.7 346.0,232.7 341.6,245.7 346.7,260.0 347.3,274.1" fill="none" stroke="#1f6fc1" stroke-width="1.1" stroke-linejoin="round"/>
<rect x="325.6" y="151.4" width="45.80" height="122.70" fill="none" stroke="#111" stroke-width="1"/>
<line x1="371.4" y1="165.7" x2="372.9" y2="165.7" stroke="#111" stroke-width="0.9"/>
<text class="t8" x="373.1" y="168.8">40°N</text>
<line x1="371.4" y1="192.4" x2="372.9" y2="192.4" stroke="#111" stroke-width="0.9"/>
<text class="t8" x="373.1" y="195.5">20°N</text>
<line x1="371.4" y1="219.1" x2="372.9" y2="219.1" stroke="#111" stroke-width="0.9"/>
<text class="t8" x="373.1" y="222.2">0</text>
<line x1="371.4" y1="245.8" x2="372.9" y2="245.8" stroke="#111" stroke-width="0.9"/>
<text class="t8" x="373.1" y="248.9">20°S</text>
<line x1="371.4" y1="272.5" x2="372.9" y2="272.5" stroke="#111" stroke-width="0.9"/>
<text class="t8" x="373.1" y="275.6">40°S</text>
<line x1="325.6" y1="274.1" x2="325.6" y2="275.6" stroke="#111" stroke-width="0.8"/>
<text class="t8" x="325.6" y="283.2" text-anchor="middle">10</text>
<line x1="340.9" y1="274.1" x2="340.9" y2="275.6" stroke="#111" stroke-width="0.8"/>
<text class="t8" x="340.9" y="283.2" text-anchor="middle">20</text>
<line x1="356.1" y1="274.1" x2="356.1" y2="275.6" stroke="#111" stroke-width="0.8"/>
<text class="t8" x="356.1" y="283.2" text-anchor="middle">30</text>
<line x1="371.4" y1="274.1" x2="371.4" y2="275.6" stroke="#111" stroke-width="0.8"/>
<text class="t8" x="371.4" y="283.2" text-anchor="middle">40</text>
<text class="lab" x="327.5" y="161.1">e</text>
<text class="ttl" x="349.0" y="291.4" text-anchor="middle"><tspan class="om">ω</tspan><tspan dy="1.5" style="font-size:6px">d</tspan><tspan dy="-1.5"> (%)</tspan></text>
<text class="ttl" transform="translate(402.2,67) rotate(-90)" text-anchor="middle">Latitude</text>
<text class="ttl" transform="translate(402.2,212) rotate(-90)" text-anchor="middle">Latitude</text>
<rect x="436.30" y="53.50" width="14.82" height="54.40" fill="#f01a1a" stroke="#e01212" stroke-width="0.5"/>
<rect x="454.83" y="55.23" width="14.82" height="52.67" fill="#f01a1a" stroke="#e01212" stroke-width="0.5"/>
<rect x="473.35" y="49.34" width="14.82" height="58.56" fill="#f01a1a" stroke="#e01212" stroke-width="0.5"/>
<rect x="491.88" y="51.51" width="14.82" height="56.39" fill="#f01a1a" stroke="#e01212" stroke-width="0.5"/>
<rect x="510.40" y="61.86" width="14.82" height="46.04" fill="#f01a1a" stroke="#e01212" stroke-width="0.5"/>
<rect x="528.93" y="29.03" width="14.82" height="78.87" fill="#f01a1a" stroke="#e01212" stroke-width="0.5"/>
<path d="M434.45 6.35H545.6V107.9H434.45Z" fill="none" stroke="#111" stroke-width="1"/>
<line x1="432.45" y1="107.9" x2="434.45" y2="107.9" stroke="#111" stroke-width="0.9"/>
<text class="t8" x="431.45" y="111.0" text-anchor="end">0</text>
<line x1="432.45" y1="74.1" x2="434.45" y2="74.1" stroke="#111" stroke-width="0.9"/>
<text class="t8" x="431.45" y="77.2" text-anchor="end">10</text>
<line x1="432.45" y1="40.2" x2="434.45" y2="40.2" stroke="#111" stroke-width="0.9"/>
<text class="t8" x="431.45" y="43.3" text-anchor="end">20</text>
<line x1="432.45" y1="6.3" x2="434.45" y2="6.3" stroke="#111" stroke-width="0.9"/>
<text class="t8" x="431.45" y="9.4" text-anchor="end">30</text>
<line x1="443.7" y1="107.9" x2="443.7" y2="109.7" stroke="#111" stroke-width="0.8"/>
<text style="font-size:9.2px" transform="translate(448.9,120.5) rotate(-29.5)" text-anchor="end">Global</text>
<line x1="462.2" y1="107.9" x2="462.2" y2="109.7" stroke="#111" stroke-width="0.8"/>
<text style="font-size:9.2px" transform="translate(467.4,120.5) rotate(-29.5)" text-anchor="end">Tropical</text>
<line x1="480.8" y1="107.9" x2="480.8" y2="109.7" stroke="#111" stroke-width="0.8"/>
<text style="font-size:9.2px" transform="translate(486.0,120.5) rotate(-29.5)" text-anchor="end">Arid</text>
<line x1="499.3" y1="107.9" x2="499.3" y2="109.7" stroke="#111" stroke-width="0.8"/>
<text style="font-size:9.2px" transform="translate(504.5,120.5) rotate(-29.5)" text-anchor="end">Temperate</text>
<line x1="517.8" y1="107.9" x2="517.8" y2="109.7" stroke="#111" stroke-width="0.8"/>
<text style="font-size:9.2px" transform="translate(523.0,120.5) rotate(-29.5)" text-anchor="end">Continental</text>
<line x1="536.3" y1="107.9" x2="536.3" y2="109.7" stroke="#111" stroke-width="0.8"/>
<text style="font-size:9.2px" transform="translate(541.5,120.5) rotate(-29.5)" text-anchor="end">Polar</text>
<text class="lab" x="435.6" y="17.2">c</text>
<text class="ttl" transform="translate(415.1,57) rotate(-90)" text-anchor="middle"><tspan class="om">ω</tspan><tspan dy="1.5" style="font-size:6px">i</tspan><tspan dy="-1.5"> (%)</tspan></text>
<rect x="436.30" y="169.48" width="14.82" height="84.62" fill="#1060b8" stroke="#0c55a6" stroke-width="0.5"/>
<rect x="454.83" y="167.78" width="14.82" height="86.32" fill="#1060b8" stroke="#0c55a6" stroke-width="0.5"/>
<rect x="473.35" y="182.06" width="14.82" height="72.04" fill="#1060b8" stroke="#0c55a6" stroke-width="0.5"/>
<rect x="491.88" y="167.44" width="14.82" height="86.66" fill="#1060b8" stroke="#0c55a6" stroke-width="0.5"/>
<rect x="510.40" y="168.80" width="14.82" height="85.30" fill="#1060b8" stroke="#0c55a6" stroke-width="0.5"/>
<rect x="528.93" y="191.23" width="14.82" height="62.87" fill="#1060b8" stroke="#0c55a6" stroke-width="0.5"/>
<path d="M434.45 152.15H545.6V254.1H434.45Z" fill="none" stroke="#111" stroke-width="1"/>
<line x1="432.45" y1="254.1" x2="434.45" y2="254.1" stroke="#111" stroke-width="0.9"/>
<text class="t8" x="431.45" y="257.2" text-anchor="end">0</text>
<line x1="432.45" y1="220.1" x2="434.45" y2="220.1" stroke="#111" stroke-width="0.9"/>
<text class="t8" x="431.45" y="223.2" text-anchor="end">10</text>
<line x1="432.45" y1="186.1" x2="434.45" y2="186.1" stroke="#111" stroke-width="0.9"/>
<text class="t8" x="431.45" y="189.2" text-anchor="end">20</text>
<line x1="432.45" y1="152.2" x2="434.45" y2="152.2" stroke="#111" stroke-width="0.9"/>
<text class="t8" x="431.45" y="155.2" text-anchor="end">30</text>
<line x1="443.7" y1="254.1" x2="443.7" y2="255.9" stroke="#111" stroke-width="0.8"/>
<text style="font-size:9.2px" transform="translate(448.9,266.7) rotate(-29.5)" text-anchor="end">Global</text>
<line x1="462.2" y1="254.1" x2="462.2" y2="255.9" stroke="#111" stroke-width="0.8"/>
<text style="font-size:9.2px" transform="translate(467.4,266.7) rotate(-29.5)" text-anchor="end">Tropical</text>
<line x1="480.8" y1="254.1" x2="480.8" y2="255.9" stroke="#111" stroke-width="0.8"/>
<text style="font-size:9.2px" transform="translate(486.0,266.7) rotate(-29.5)" text-anchor="end">Arid</text>
<line x1="499.3" y1="254.1" x2="499.3" y2="255.9" stroke="#111" stroke-width="0.8"/>
<text style="font-size:9.2px" transform="translate(504.5,266.7) rotate(-29.5)" text-anchor="end">Temperate</text>
<line x1="517.8" y1="254.1" x2="517.8" y2="255.9" stroke="#111" stroke-width="0.8"/>
<text style="font-size:9.2px" transform="translate(523.0,266.7) rotate(-29.5)" text-anchor="end">Continental</text>
<line x1="536.3" y1="254.1" x2="536.3" y2="255.9" stroke="#111" stroke-width="0.8"/>
<text style="font-size:9.2px" transform="translate(541.5,266.7) rotate(-29.5)" text-anchor="end">Polar</text>
<text class="lab" x="435.7" y="164.4">f</text>
<text class="ttl" transform="translate(415.1,203) rotate(-90)" text-anchor="middle"><tspan class="om">ω</tspan><tspan dy="1.5" style="font-size:6px">d</tspan><tspan dy="-1.5"> (%)</tspan></text>
</svg></body></html>
